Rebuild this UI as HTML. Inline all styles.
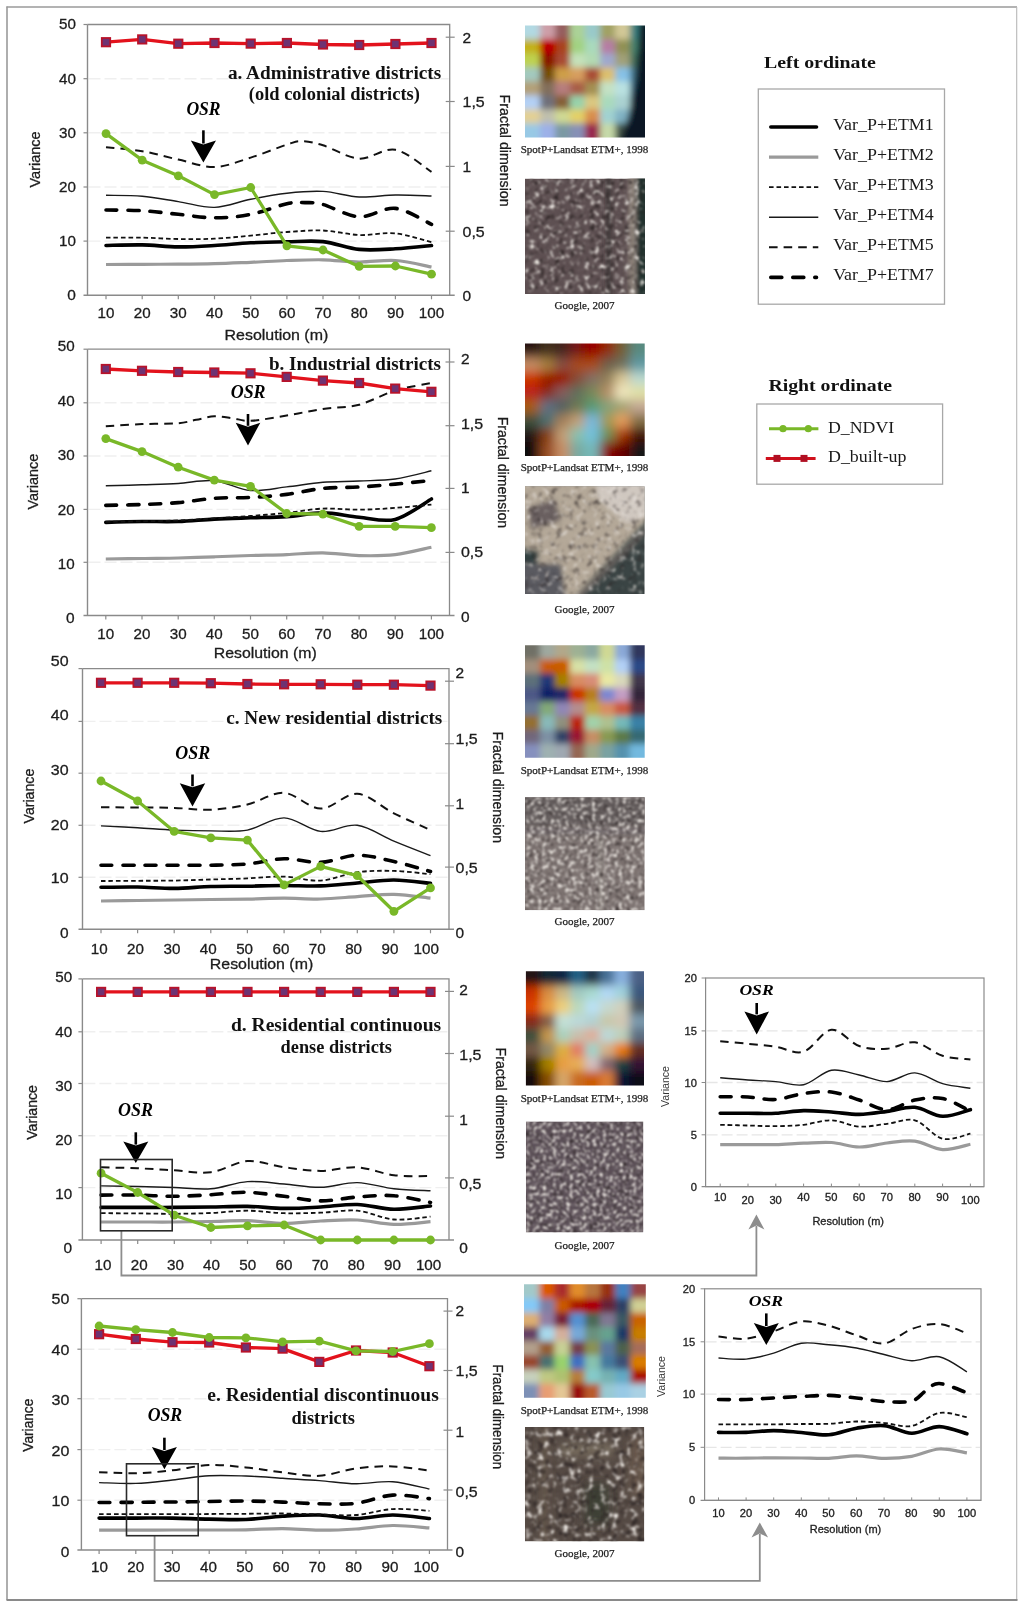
<!DOCTYPE html>
<html><head><meta charset="utf-8"><title>Figure</title>
<style>html,body{margin:0;padding:0;background:#fff;} svg{display:block;filter:blur(0.4px);}</style>
</head><body>
<svg width="1024" height="1608" viewBox="0 0 1024 1608">
<rect width="1024" height="1608" fill="#fff"/>
<line x1="7" y1="6.5" x2="7" y2="1600" stroke="#9a9a9a" stroke-width="1.6"/>
<line x1="6.5" y1="7" x2="1017" y2="7" stroke="#9a9a9a" stroke-width="1.6"/>
<line x1="1016.7" y1="7" x2="1016.7" y2="1600" stroke="#b8b8b8" stroke-width="1.1"/>
<line x1="6.5" y1="1599.9" x2="1017.5" y2="1599.9" stroke="#8a8a8a" stroke-width="2"/>
<clipPath id="cs0"><rect x="525" y="25.4" width="120.0" height="112.0"/></clipPath>
<filter id="fs0" filterUnits="userSpaceOnUse" x="495" y="-4.600000000000001" width="180.0" height="172.0"><feGaussianBlur stdDeviation="3.2"/><feColorMatrix type="saturate" values="1.2"/></filter>
<g clip-path="url(#cs0)"><g filter="url(#fs0)">
<rect x="505.0" y="5.4" width="35.6" height="34.6" fill="#b8d8e0"/>
<rect x="540.0" y="5.4" width="15.6" height="34.6" fill="#c8a0a8"/>
<rect x="555.0" y="5.4" width="15.6" height="34.6" fill="#906060"/>
<rect x="570.0" y="5.4" width="15.6" height="34.6" fill="#b0d0a0"/>
<rect x="585.0" y="5.4" width="15.6" height="34.6" fill="#a0c8c8"/>
<rect x="600.0" y="5.4" width="15.6" height="34.6" fill="#a0a070"/>
<rect x="615.0" y="5.4" width="15.6" height="34.6" fill="#d0c8a0"/>
<rect x="630.0" y="5.4" width="35.6" height="34.6" fill="#4a8080"/>
<rect x="505.0" y="39.4" width="35.6" height="14.6" fill="#c0b050"/>
<rect x="540.0" y="39.4" width="15.6" height="14.6" fill="#b01818"/>
<rect x="555.0" y="39.4" width="15.6" height="14.6" fill="#a04830"/>
<rect x="570.0" y="39.4" width="15.6" height="14.6" fill="#a8d090"/>
<rect x="585.0" y="39.4" width="15.6" height="14.6" fill="#b0d8c0"/>
<rect x="600.0" y="39.4" width="15.6" height="14.6" fill="#b080a0"/>
<rect x="615.0" y="39.4" width="15.6" height="14.6" fill="#909060"/>
<rect x="630.0" y="39.4" width="35.6" height="14.6" fill="#508070"/>
<rect x="505.0" y="53.4" width="35.6" height="14.6" fill="#c0d070"/>
<rect x="540.0" y="53.4" width="15.6" height="14.6" fill="#802010"/>
<rect x="555.0" y="53.4" width="15.6" height="14.6" fill="#a05040"/>
<rect x="570.0" y="53.4" width="15.6" height="14.6" fill="#c8e0c0"/>
<rect x="585.0" y="53.4" width="15.6" height="14.6" fill="#b8d8b8"/>
<rect x="600.0" y="53.4" width="15.6" height="14.6" fill="#a0a8c8"/>
<rect x="615.0" y="53.4" width="15.6" height="14.6" fill="#a0a080"/>
<rect x="630.0" y="53.4" width="35.6" height="14.6" fill="#4a7060"/>
<rect x="505.0" y="67.4" width="35.6" height="14.6" fill="#a8c8c0"/>
<rect x="540.0" y="67.4" width="15.6" height="14.6" fill="#705020"/>
<rect x="555.0" y="67.4" width="15.6" height="14.6" fill="#c8a060"/>
<rect x="570.0" y="67.4" width="15.6" height="14.6" fill="#d0a070"/>
<rect x="585.0" y="67.4" width="15.6" height="14.6" fill="#a05040"/>
<rect x="600.0" y="67.4" width="15.6" height="14.6" fill="#d8c080"/>
<rect x="615.0" y="67.4" width="15.6" height="14.6" fill="#90c0e0"/>
<rect x="630.0" y="67.4" width="35.6" height="14.6" fill="#4a7080"/>
<rect x="505.0" y="81.4" width="35.6" height="14.6" fill="#b0a080"/>
<rect x="540.0" y="81.4" width="15.6" height="14.6" fill="#807060"/>
<rect x="555.0" y="81.4" width="15.6" height="14.6" fill="#b08080"/>
<rect x="570.0" y="81.4" width="15.6" height="14.6" fill="#a06050"/>
<rect x="585.0" y="81.4" width="15.6" height="14.6" fill="#a09060"/>
<rect x="600.0" y="81.4" width="15.6" height="14.6" fill="#c8e0c8"/>
<rect x="615.0" y="81.4" width="15.6" height="14.6" fill="#c0e0e0"/>
<rect x="630.0" y="81.4" width="35.6" height="14.6" fill="#3a6880"/>
<rect x="505.0" y="95.4" width="35.6" height="14.6" fill="#b8d0f0"/>
<rect x="540.0" y="95.4" width="15.6" height="14.6" fill="#707078"/>
<rect x="555.0" y="95.4" width="15.6" height="14.6" fill="#806040"/>
<rect x="570.0" y="95.4" width="15.6" height="14.6" fill="#a0d0b0"/>
<rect x="585.0" y="95.4" width="15.6" height="14.6" fill="#d8c890"/>
<rect x="600.0" y="95.4" width="15.6" height="14.6" fill="#b0d8c0"/>
<rect x="615.0" y="95.4" width="15.6" height="14.6" fill="#b0d0d0"/>
<rect x="630.0" y="95.4" width="35.6" height="14.6" fill="#305870"/>
<rect x="505.0" y="109.4" width="35.6" height="14.6" fill="#e0d0a0"/>
<rect x="540.0" y="109.4" width="15.6" height="14.6" fill="#c0c0b0"/>
<rect x="555.0" y="109.4" width="15.6" height="14.6" fill="#d0d8a0"/>
<rect x="570.0" y="109.4" width="15.6" height="14.6" fill="#e0d080"/>
<rect x="585.0" y="109.4" width="15.6" height="14.6" fill="#d09060"/>
<rect x="600.0" y="109.4" width="15.6" height="14.6" fill="#a8d0d0"/>
<rect x="615.0" y="109.4" width="15.6" height="14.6" fill="#88b0c0"/>
<rect x="630.0" y="109.4" width="35.6" height="14.6" fill="#284858"/>
<rect x="505.0" y="123.4" width="35.6" height="34.6" fill="#a0c8e0"/>
<rect x="540.0" y="123.4" width="15.6" height="34.6" fill="#a0b0e0"/>
<rect x="555.0" y="123.4" width="15.6" height="34.6" fill="#8098a0"/>
<rect x="570.0" y="123.4" width="15.6" height="34.6" fill="#8890b0"/>
<rect x="585.0" y="123.4" width="15.6" height="34.6" fill="#903050"/>
<rect x="600.0" y="123.4" width="15.6" height="34.6" fill="#c8d8b0"/>
<rect x="615.0" y="123.4" width="15.6" height="34.6" fill="#485850"/>
<rect x="630.0" y="123.4" width="35.6" height="34.6" fill="#202828"/>
<path d="M639,20.4 L655,20.4 L655,147.4 L617,147.4 L628,117.2 L635,81.4 L638,47.8 Z" fill="#0c1620"/>
</g></g>
<clipPath id="cg0"><rect x="525" y="178.6" width="120.0" height="115.4"/></clipPath>
<filter id="bg0" filterUnits="userSpaceOnUse" x="505" y="158.6" width="160.0" height="155.4"><feGaussianBlur stdDeviation="2"/></filter>
<filter id="ng0" filterUnits="userSpaceOnUse" x="525" y="178.6" width="120.0" height="115.4" color-interpolation-filters="sRGB"><feTurbulence type="fractalNoise" baseFrequency="0.2" numOctaves="3" seed="7" result="n"/><feColorMatrix in="n" type="matrix" values="0 0 0 0 0.92  0 0 0 0 0.9  0 0 0 0 0.88  4.4 0 0 0 -2.45" result="w"/><feColorMatrix in="n" type="matrix" values="0 0 0 0 0.16  0 0 0 0 0.13  0 0 0 0 0.13  0 -3.30 0 0 1.52" result="k"/><feMerge><feMergeNode in="k"/><feMergeNode in="w"/></feMerge><feGaussianBlur stdDeviation="0.8"/></filter>
<g clip-path="url(#cg0)"><rect x="525" y="178.6" width="120.0" height="115.4" fill="#5e5052"/>
<g filter="url(#bg0)"><rect x="628.2" y="173.6" width="8.4" height="125.4" fill="#8a8078"/><rect x="636.6" y="173.6" width="12.0" height="125.4" fill="#22302e"/><rect x="606.6" y="173.6" width="4.2" height="125.4" fill="#3a3434"/></g>
<rect x="525" y="178.6" width="120.0" height="115.4" filter="url(#ng0)"/>
</g>
<text x="584.5" y="152.6" font-family="Liberation Serif" font-size="11" text-anchor="middle" fill="#1e1e1e" stroke="#1e1e1e" stroke-width="0.25" textLength="127.7" lengthAdjust="spacingAndGlyphs">SpotP+Landsat ETM+, 1998</text>
<text x="584.5" y="308.6" font-family="Liberation Serif" font-size="11" text-anchor="middle" fill="#1e1e1e" stroke="#1e1e1e" stroke-width="0.25" textLength="60.0" lengthAdjust="spacingAndGlyphs">Google, 2007</text>
<clipPath id="cs1"><rect x="525" y="343.4" width="119.7" height="112.5"/></clipPath>
<filter id="fs1" filterUnits="userSpaceOnUse" x="495" y="313.4" width="179.7" height="172.5"><feGaussianBlur stdDeviation="5.2"/><feColorMatrix type="saturate" values="1.2"/></filter>
<g clip-path="url(#cs1)"><g filter="url(#fs1)">
<rect x="505.0" y="323.4" width="35.6" height="34.7" fill="#281818"/>
<rect x="540.0" y="323.4" width="15.6" height="34.7" fill="#403020"/>
<rect x="554.9" y="323.4" width="15.6" height="34.7" fill="#402820"/>
<rect x="569.9" y="323.4" width="15.6" height="34.7" fill="#702020"/>
<rect x="584.9" y="323.4" width="15.6" height="34.7" fill="#901810"/>
<rect x="599.8" y="323.4" width="15.6" height="34.7" fill="#8a3020"/>
<rect x="614.8" y="323.4" width="15.6" height="34.7" fill="#706040"/>
<rect x="629.7" y="323.4" width="35.6" height="34.7" fill="#608880"/>
<rect x="505.0" y="357.5" width="35.6" height="14.7" fill="#c09070"/>
<rect x="540.0" y="357.5" width="15.6" height="14.7" fill="#a08050"/>
<rect x="554.9" y="357.5" width="15.6" height="14.7" fill="#805048"/>
<rect x="569.9" y="357.5" width="15.6" height="14.7" fill="#a05030"/>
<rect x="584.9" y="357.5" width="15.6" height="14.7" fill="#a05030"/>
<rect x="599.8" y="357.5" width="15.6" height="14.7" fill="#6a6050"/>
<rect x="614.8" y="357.5" width="15.6" height="14.7" fill="#707060"/>
<rect x="629.7" y="357.5" width="35.6" height="14.7" fill="#6a98a0"/>
<rect x="505.0" y="371.5" width="35.6" height="14.7" fill="#c04020"/>
<rect x="540.0" y="371.5" width="15.6" height="14.7" fill="#902010"/>
<rect x="554.9" y="371.5" width="15.6" height="14.7" fill="#902010"/>
<rect x="569.9" y="371.5" width="15.6" height="14.7" fill="#805040"/>
<rect x="584.9" y="371.5" width="15.6" height="14.7" fill="#807068"/>
<rect x="599.8" y="371.5" width="15.6" height="14.7" fill="#908060"/>
<rect x="614.8" y="371.5" width="15.6" height="14.7" fill="#d8c8a0"/>
<rect x="629.7" y="371.5" width="35.6" height="14.7" fill="#c0d8d0"/>
<rect x="505.0" y="385.6" width="35.6" height="14.7" fill="#b03030"/>
<rect x="540.0" y="385.6" width="15.6" height="14.7" fill="#803028"/>
<rect x="554.9" y="385.6" width="15.6" height="14.7" fill="#806060"/>
<rect x="569.9" y="385.6" width="15.6" height="14.7" fill="#607060"/>
<rect x="584.9" y="385.6" width="15.6" height="14.7" fill="#7a8860"/>
<rect x="599.8" y="385.6" width="15.6" height="14.7" fill="#b09070"/>
<rect x="614.8" y="385.6" width="15.6" height="14.7" fill="#f0e8c8"/>
<rect x="629.7" y="385.6" width="35.6" height="14.7" fill="#e0e0b0"/>
<rect x="505.0" y="399.6" width="35.6" height="14.7" fill="#a06030"/>
<rect x="540.0" y="399.6" width="15.6" height="14.7" fill="#607080"/>
<rect x="554.9" y="399.6" width="15.6" height="14.7" fill="#506060"/>
<rect x="569.9" y="399.6" width="15.6" height="14.7" fill="#707858"/>
<rect x="584.9" y="399.6" width="15.6" height="14.7" fill="#609878"/>
<rect x="599.8" y="399.6" width="15.6" height="14.7" fill="#88a080"/>
<rect x="614.8" y="399.6" width="15.6" height="14.7" fill="#a0a078"/>
<rect x="629.7" y="399.6" width="35.6" height="14.7" fill="#c0a898"/>
<rect x="505.0" y="413.7" width="35.6" height="14.7" fill="#405040"/>
<rect x="540.0" y="413.7" width="15.6" height="14.7" fill="#507070"/>
<rect x="554.9" y="413.7" width="15.6" height="14.7" fill="#a08060"/>
<rect x="569.9" y="413.7" width="15.6" height="14.7" fill="#c0a080"/>
<rect x="584.9" y="413.7" width="15.6" height="14.7" fill="#80b8d8"/>
<rect x="599.8" y="413.7" width="15.6" height="14.7" fill="#a09860"/>
<rect x="614.8" y="413.7" width="15.6" height="14.7" fill="#e0a070"/>
<rect x="629.7" y="413.7" width="35.6" height="14.7" fill="#807050"/>
<rect x="505.0" y="427.8" width="35.6" height="14.7" fill="#201818"/>
<rect x="540.0" y="427.8" width="15.6" height="14.7" fill="#804020"/>
<rect x="554.9" y="427.8" width="15.6" height="14.7" fill="#c0a080"/>
<rect x="569.9" y="427.8" width="15.6" height="14.7" fill="#90c0b0"/>
<rect x="584.9" y="427.8" width="15.6" height="14.7" fill="#80c0d8"/>
<rect x="599.8" y="427.8" width="15.6" height="14.7" fill="#709060"/>
<rect x="614.8" y="427.8" width="15.6" height="14.7" fill="#a04020"/>
<rect x="629.7" y="427.8" width="35.6" height="14.7" fill="#401810"/>
<rect x="505.0" y="441.8" width="35.6" height="34.7" fill="#101010"/>
<rect x="540.0" y="441.8" width="15.6" height="34.7" fill="#905030"/>
<rect x="554.9" y="441.8" width="15.6" height="34.7" fill="#c09070"/>
<rect x="569.9" y="441.8" width="15.6" height="34.7" fill="#80a8a0"/>
<rect x="584.9" y="441.8" width="15.6" height="34.7" fill="#80b8b8"/>
<rect x="599.8" y="441.8" width="15.6" height="34.7" fill="#801818"/>
<rect x="614.8" y="441.8" width="15.6" height="34.7" fill="#601010"/>
<rect x="629.7" y="441.8" width="35.6" height="34.7" fill="#181818"/>
</g></g>
<clipPath id="cg1"><rect x="525" y="486.3" width="119.7" height="107.7"/></clipPath>
<filter id="bg1" filterUnits="userSpaceOnUse" x="505" y="466.3" width="159.7" height="147.7"><feGaussianBlur stdDeviation="2.5"/></filter>
<filter id="ng1" filterUnits="userSpaceOnUse" x="525" y="486.3" width="119.7" height="107.7" color-interpolation-filters="sRGB"><feTurbulence type="fractalNoise" baseFrequency="0.16" numOctaves="3" seed="10" result="n"/><feColorMatrix in="n" type="matrix" values="0 0 0 0 0.92  0 0 0 0 0.9  0 0 0 0 0.88  2.6 0 0 0 -1.45" result="w"/><feColorMatrix in="n" type="matrix" values="0 0 0 0 0.16  0 0 0 0 0.13  0 0 0 0 0.13  0 -2.00 0 0 0.92" result="k"/><feMerge><feMergeNode in="k"/><feMergeNode in="w"/></feMerge><feGaussianBlur stdDeviation="0.8"/></filter>
<g clip-path="url(#cg1)"><rect x="525" y="486.3" width="119.7" height="107.7" fill="#3a4444"/>
<g filter="url(#bg1)"><path d="M513.0,475.5 L656.7,475.5 L656.7,510.0 L566.9,604.8 L513.0,604.8 Z" fill="#b4a898"/><path d="M596.8,475.5 L656.7,475.5 L656.7,513.2 L626.7,524.0 L596.8,497.1 Z" fill="#d0c8c0"/><path d="M513.0,545.5 L539.4,550.9 L537.0,567.1 L513.0,567.1 Z" fill="#304040"/><path d="M513.0,563.8 L560.9,563.8 L566.9,604.8 L513.0,604.8 Z" fill="#5a5a60"/><path d="M527.4,507.8 L554.9,499.2 L560.9,520.8 L531.0,529.4 Z" fill="#6a6060"/><path d="M566.9,604.8 L656.7,516.5 L656.7,522.9 L575.3,604.8 Z" fill="#6a6460"/></g>
<rect x="525" y="486.3" width="119.7" height="107.7" filter="url(#ng1)"/>
</g>
<text x="584.5" y="471.3" font-family="Liberation Serif" font-size="11" text-anchor="middle" fill="#1e1e1e" stroke="#1e1e1e" stroke-width="0.25" textLength="127.7" lengthAdjust="spacingAndGlyphs">SpotP+Landsat ETM+, 1998</text>
<text x="584.5" y="613.1" font-family="Liberation Serif" font-size="11" text-anchor="middle" fill="#1e1e1e" stroke="#1e1e1e" stroke-width="0.25" textLength="60.0" lengthAdjust="spacingAndGlyphs">Google, 2007</text>
<clipPath id="cs2"><rect x="525" y="645.3" width="119.7" height="112.5"/></clipPath>
<filter id="fs2" filterUnits="userSpaceOnUse" x="495" y="615.3" width="179.7" height="172.5"><feGaussianBlur stdDeviation="3.2"/><feColorMatrix type="saturate" values="1.2"/></filter>
<g clip-path="url(#cs2)"><g filter="url(#fs2)">
<rect x="505.0" y="625.3" width="35.6" height="34.7" fill="#707068"/>
<rect x="540.0" y="625.3" width="15.6" height="34.7" fill="#a0a8a0"/>
<rect x="554.9" y="625.3" width="15.6" height="34.7" fill="#b0a890"/>
<rect x="569.9" y="625.3" width="15.6" height="34.7" fill="#a0b098"/>
<rect x="584.9" y="625.3" width="15.6" height="34.7" fill="#90a8a0"/>
<rect x="599.8" y="625.3" width="15.6" height="34.7" fill="#d0d8a0"/>
<rect x="614.8" y="625.3" width="15.6" height="34.7" fill="#90a8d0"/>
<rect x="629.7" y="625.3" width="35.6" height="34.7" fill="#303858"/>
<rect x="505.0" y="659.4" width="35.6" height="14.7" fill="#a09080"/>
<rect x="540.0" y="659.4" width="15.6" height="14.7" fill="#c06030"/>
<rect x="554.9" y="659.4" width="15.6" height="14.7" fill="#c06020"/>
<rect x="569.9" y="659.4" width="15.6" height="14.7" fill="#d8e0b0"/>
<rect x="584.9" y="659.4" width="15.6" height="14.7" fill="#c8e0c8"/>
<rect x="599.8" y="659.4" width="15.6" height="14.7" fill="#d0e0b0"/>
<rect x="614.8" y="659.4" width="15.6" height="14.7" fill="#b8d0f0"/>
<rect x="629.7" y="659.4" width="35.6" height="14.7" fill="#304880"/>
<rect x="505.0" y="673.4" width="35.6" height="14.7" fill="#607078"/>
<rect x="540.0" y="673.4" width="15.6" height="14.7" fill="#283870"/>
<rect x="554.9" y="673.4" width="15.6" height="14.7" fill="#a08030"/>
<rect x="569.9" y="673.4" width="15.6" height="14.7" fill="#d09070"/>
<rect x="584.9" y="673.4" width="15.6" height="14.7" fill="#d09080"/>
<rect x="599.8" y="673.4" width="15.6" height="14.7" fill="#e8e8b0"/>
<rect x="614.8" y="673.4" width="15.6" height="14.7" fill="#d8d8c0"/>
<rect x="629.7" y="673.4" width="35.6" height="14.7" fill="#403848"/>
<rect x="505.0" y="687.5" width="35.6" height="14.7" fill="#505880"/>
<rect x="540.0" y="687.5" width="15.6" height="14.7" fill="#182060"/>
<rect x="554.9" y="687.5" width="15.6" height="14.7" fill="#202860"/>
<rect x="569.9" y="687.5" width="15.6" height="14.7" fill="#c04020"/>
<rect x="584.9" y="687.5" width="15.6" height="14.7" fill="#b08040"/>
<rect x="599.8" y="687.5" width="15.6" height="14.7" fill="#8088c8"/>
<rect x="614.8" y="687.5" width="15.6" height="14.7" fill="#c0a0c0"/>
<rect x="629.7" y="687.5" width="35.6" height="14.7" fill="#302838"/>
<rect x="505.0" y="701.5" width="35.6" height="14.7" fill="#6a7890"/>
<rect x="540.0" y="701.5" width="15.6" height="14.7" fill="#88a880"/>
<rect x="554.9" y="701.5" width="15.6" height="14.7" fill="#9088b0"/>
<rect x="569.9" y="701.5" width="15.6" height="14.7" fill="#b09090"/>
<rect x="584.9" y="701.5" width="15.6" height="14.7" fill="#c0a860"/>
<rect x="599.8" y="701.5" width="15.6" height="14.7" fill="#d09070"/>
<rect x="614.8" y="701.5" width="15.6" height="14.7" fill="#c06050"/>
<rect x="629.7" y="701.5" width="35.6" height="14.7" fill="#503040"/>
<rect x="505.0" y="715.6" width="35.6" height="14.7" fill="#907040"/>
<rect x="540.0" y="715.6" width="15.6" height="14.7" fill="#90b8b8"/>
<rect x="554.9" y="715.6" width="15.6" height="14.7" fill="#909080"/>
<rect x="569.9" y="715.6" width="15.6" height="14.7" fill="#b03028"/>
<rect x="584.9" y="715.6" width="15.6" height="14.7" fill="#a8d0b0"/>
<rect x="599.8" y="715.6" width="15.6" height="14.7" fill="#b0c098"/>
<rect x="614.8" y="715.6" width="15.6" height="14.7" fill="#80b8b8"/>
<rect x="629.7" y="715.6" width="35.6" height="14.7" fill="#4880a0"/>
<rect x="505.0" y="729.7" width="35.6" height="14.7" fill="#706878"/>
<rect x="540.0" y="729.7" width="15.6" height="14.7" fill="#8090a0"/>
<rect x="554.9" y="729.7" width="15.6" height="14.7" fill="#304060"/>
<rect x="569.9" y="729.7" width="15.6" height="14.7" fill="#902838"/>
<rect x="584.9" y="729.7" width="15.6" height="14.7" fill="#c09070"/>
<rect x="599.8" y="729.7" width="15.6" height="14.7" fill="#8a9860"/>
<rect x="614.8" y="729.7" width="15.6" height="14.7" fill="#607850"/>
<rect x="629.7" y="729.7" width="35.6" height="14.7" fill="#406870"/>
<rect x="505.0" y="743.7" width="35.6" height="34.7" fill="#8890b8"/>
<rect x="540.0" y="743.7" width="15.6" height="34.7" fill="#a0b0b0"/>
<rect x="554.9" y="743.7" width="15.6" height="34.7" fill="#a0a8b0"/>
<rect x="569.9" y="743.7" width="15.6" height="34.7" fill="#906858"/>
<rect x="584.9" y="743.7" width="15.6" height="34.7" fill="#a0a890"/>
<rect x="599.8" y="743.7" width="15.6" height="34.7" fill="#80a0a0"/>
<rect x="614.8" y="743.7" width="15.6" height="34.7" fill="#6090a8"/>
<rect x="629.7" y="743.7" width="35.6" height="34.7" fill="#80b8d8"/>
</g></g>
<clipPath id="cg2"><rect x="525" y="797.3" width="119.7" height="112.9"/></clipPath>
<filter id="bg2" filterUnits="userSpaceOnUse" x="505" y="777.3" width="159.7" height="152.9"><feGaussianBlur stdDeviation="2"/></filter>
<filter id="ng2" filterUnits="userSpaceOnUse" x="525" y="797.3" width="119.7" height="112.9" color-interpolation-filters="sRGB"><feTurbulence type="fractalNoise" baseFrequency="0.26" numOctaves="3" seed="13" result="n"/><feColorMatrix in="n" type="matrix" values="0 0 0 0 0.92  0 0 0 0 0.9  0 0 0 0 0.88  4.6 0 0 0 -2.35" result="w"/><feColorMatrix in="n" type="matrix" values="0 0 0 0 0.16  0 0 0 0 0.13  0 0 0 0 0.13  0 -3.00 0 0 1.38" result="k"/><feMerge><feMergeNode in="k"/><feMergeNode in="w"/></feMerge><feGaussianBlur stdDeviation="0.8"/></filter>
<g clip-path="url(#cg2)"><rect x="525" y="797.3" width="119.7" height="112.9" fill="#7c7270"/>
<g filter="url(#bg2)"><rect x="596.8" y="828.9" width="7.2" height="112.9" fill="#8c8480"/><rect x="520" y="792.3" width="129.7" height="33.9" fill="#645c5c"/><rect x="520" y="828.9" width="129.7" height="5.6" fill="#70686a"/></g>
<rect x="525" y="797.3" width="119.7" height="112.9" filter="url(#ng2)"/>
</g>
<text x="584.5" y="774.4" font-family="Liberation Serif" font-size="11" text-anchor="middle" fill="#1e1e1e" stroke="#1e1e1e" stroke-width="0.25" textLength="127.7" lengthAdjust="spacingAndGlyphs">SpotP+Landsat ETM+, 1998</text>
<text x="584.5" y="925.0" font-family="Liberation Serif" font-size="11" text-anchor="middle" fill="#1e1e1e" stroke="#1e1e1e" stroke-width="0.25" textLength="60.0" lengthAdjust="spacingAndGlyphs">Google, 2007</text>
<clipPath id="cs3"><rect x="525.9" y="971.2" width="118.1" height="114.2"/></clipPath>
<filter id="fs3" filterUnits="userSpaceOnUse" x="495.9" y="941.2" width="178.1" height="174.2"><feGaussianBlur stdDeviation="4.4"/><feColorMatrix type="saturate" values="1.2"/></filter>
<g clip-path="url(#cs3)"><g filter="url(#fs3)">
<rect x="505.9" y="951.2" width="35.4" height="34.9" fill="#201818"/>
<rect x="540.7" y="951.2" width="15.4" height="34.9" fill="#182830"/>
<rect x="555.4" y="951.2" width="15.4" height="34.9" fill="#182840"/>
<rect x="570.2" y="951.2" width="15.4" height="34.9" fill="#306080"/>
<rect x="585.0" y="951.2" width="15.4" height="34.9" fill="#203040"/>
<rect x="599.7" y="951.2" width="15.4" height="34.9" fill="#507090"/>
<rect x="614.5" y="951.2" width="15.4" height="34.9" fill="#90b0d8"/>
<rect x="629.2" y="951.2" width="35.4" height="34.9" fill="#506080"/>
<rect x="505.9" y="985.5" width="35.4" height="14.9" fill="#c04020"/>
<rect x="540.7" y="985.5" width="15.4" height="14.9" fill="#d0905a"/>
<rect x="555.4" y="985.5" width="15.4" height="14.9" fill="#c8b890"/>
<rect x="570.2" y="985.5" width="15.4" height="14.9" fill="#a8c8c0"/>
<rect x="585.0" y="985.5" width="15.4" height="14.9" fill="#b0d8d0"/>
<rect x="599.7" y="985.5" width="15.4" height="14.9" fill="#b8d8f0"/>
<rect x="614.5" y="985.5" width="15.4" height="14.9" fill="#a8d0d8"/>
<rect x="629.2" y="985.5" width="35.4" height="14.9" fill="#405878"/>
<rect x="505.9" y="999.8" width="35.4" height="14.9" fill="#d05030"/>
<rect x="540.7" y="999.8" width="15.4" height="14.9" fill="#e0a060"/>
<rect x="555.4" y="999.8" width="15.4" height="14.9" fill="#e8d090"/>
<rect x="570.2" y="999.8" width="15.4" height="14.9" fill="#c0d8c0"/>
<rect x="585.0" y="999.8" width="15.4" height="14.9" fill="#c0e0f0"/>
<rect x="599.7" y="999.8" width="15.4" height="14.9" fill="#c8d8d0"/>
<rect x="614.5" y="999.8" width="15.4" height="14.9" fill="#d0d0c0"/>
<rect x="629.2" y="999.8" width="35.4" height="14.9" fill="#505860"/>
<rect x="505.9" y="1014.0" width="35.4" height="14.9" fill="#803028"/>
<rect x="540.7" y="1014.0" width="15.4" height="14.9" fill="#806050"/>
<rect x="555.4" y="1014.0" width="15.4" height="14.9" fill="#c8e0d8"/>
<rect x="570.2" y="1014.0" width="15.4" height="14.9" fill="#c0d8d8"/>
<rect x="585.0" y="1014.0" width="15.4" height="14.9" fill="#b8d0d0"/>
<rect x="599.7" y="1014.0" width="15.4" height="14.9" fill="#c8c8b0"/>
<rect x="614.5" y="1014.0" width="15.4" height="14.9" fill="#d0c8b8"/>
<rect x="629.2" y="1014.0" width="35.4" height="14.9" fill="#8098a8"/>
<rect x="505.9" y="1028.3" width="35.4" height="14.9" fill="#405040"/>
<rect x="540.7" y="1028.3" width="15.4" height="14.9" fill="#c09860"/>
<rect x="555.4" y="1028.3" width="15.4" height="14.9" fill="#b0d0c0"/>
<rect x="570.2" y="1028.3" width="15.4" height="14.9" fill="#c8c0b0"/>
<rect x="585.0" y="1028.3" width="15.4" height="14.9" fill="#d8b0a0"/>
<rect x="599.7" y="1028.3" width="15.4" height="14.9" fill="#c0d8d8"/>
<rect x="614.5" y="1028.3" width="15.4" height="14.9" fill="#c0d0c0"/>
<rect x="629.2" y="1028.3" width="35.4" height="14.9" fill="#607080"/>
<rect x="505.9" y="1042.6" width="35.4" height="14.9" fill="#705848"/>
<rect x="540.7" y="1042.6" width="15.4" height="14.9" fill="#908870"/>
<rect x="555.4" y="1042.6" width="15.4" height="14.9" fill="#d8b060"/>
<rect x="570.2" y="1042.6" width="15.4" height="14.9" fill="#d88070"/>
<rect x="585.0" y="1042.6" width="15.4" height="14.9" fill="#a8d0c8"/>
<rect x="599.7" y="1042.6" width="15.4" height="14.9" fill="#d0b090"/>
<rect x="614.5" y="1042.6" width="15.4" height="14.9" fill="#e08040"/>
<rect x="629.2" y="1042.6" width="35.4" height="14.9" fill="#603028"/>
<rect x="505.9" y="1056.9" width="35.4" height="14.9" fill="#302818"/>
<rect x="540.7" y="1056.9" width="15.4" height="14.9" fill="#a08020"/>
<rect x="555.4" y="1056.9" width="15.4" height="14.9" fill="#e0a060"/>
<rect x="570.2" y="1056.9" width="15.4" height="14.9" fill="#e0b070"/>
<rect x="585.0" y="1056.9" width="15.4" height="14.9" fill="#d0c0c0"/>
<rect x="599.7" y="1056.9" width="15.4" height="14.9" fill="#806870"/>
<rect x="614.5" y="1056.9" width="15.4" height="14.9" fill="#204040"/>
<rect x="629.2" y="1056.9" width="35.4" height="14.9" fill="#301830"/>
<rect x="505.9" y="1071.1" width="35.4" height="34.9" fill="#181010"/>
<rect x="540.7" y="1071.1" width="15.4" height="34.9" fill="#805020"/>
<rect x="555.4" y="1071.1" width="15.4" height="34.9" fill="#d0a878"/>
<rect x="570.2" y="1071.1" width="15.4" height="34.9" fill="#c07040"/>
<rect x="585.0" y="1071.1" width="15.4" height="34.9" fill="#c06030"/>
<rect x="599.7" y="1071.1" width="15.4" height="34.9" fill="#d08050"/>
<rect x="614.5" y="1071.1" width="15.4" height="34.9" fill="#101830"/>
<rect x="629.2" y="1071.1" width="35.4" height="34.9" fill="#101018"/>
</g></g>
<clipPath id="cg3"><rect x="525.9" y="1121.4" width="117.5" height="111.0"/></clipPath>
<filter id="bg3" filterUnits="userSpaceOnUse" x="505.9" y="1101.4" width="157.5" height="151.0"><feGaussianBlur stdDeviation="2"/></filter>
<filter id="ng3" filterUnits="userSpaceOnUse" x="525.9" y="1121.4" width="117.5" height="111.0" color-interpolation-filters="sRGB"><feTurbulence type="fractalNoise" baseFrequency="0.3" numOctaves="3" seed="16" result="n"/><feColorMatrix in="n" type="matrix" values="0 0 0 0 0.92  0 0 0 0 0.9  0 0 0 0 0.88  5.4 0 0 0 -2.8" result="w"/><feColorMatrix in="n" type="matrix" values="0 0 0 0 0.16  0 0 0 0 0.13  0 0 0 0 0.13  0 -4.20 0 0 1.93" result="k"/><feMerge><feMergeNode in="k"/><feMergeNode in="w"/></feMerge><feGaussianBlur stdDeviation="0.8"/></filter>
<g clip-path="url(#cg3)"><rect x="525.9" y="1121.4" width="117.5" height="111.0" fill="#5c5058"/>
<rect x="525.9" y="1121.4" width="117.5" height="111.0" filter="url(#ng3)"/>
</g>
<text x="584.5" y="1101.6" font-family="Liberation Serif" font-size="11" text-anchor="middle" fill="#1e1e1e" stroke="#1e1e1e" stroke-width="0.25" textLength="127.7" lengthAdjust="spacingAndGlyphs">SpotP+Landsat ETM+, 1998</text>
<text x="584.5" y="1249.0" font-family="Liberation Serif" font-size="11" text-anchor="middle" fill="#1e1e1e" stroke="#1e1e1e" stroke-width="0.25" textLength="60.0" lengthAdjust="spacingAndGlyphs">Google, 2007</text>
<clipPath id="cs4"><rect x="524" y="1284.3" width="121.8" height="113.5"/></clipPath>
<filter id="fs4" filterUnits="userSpaceOnUse" x="494" y="1254.3" width="181.8" height="173.5"><feGaussianBlur stdDeviation="3.0"/><feColorMatrix type="saturate" values="1.2"/></filter>
<g clip-path="url(#cs4)"><g filter="url(#fs4)">
<rect x="504.0" y="1264.3" width="35.8" height="34.8" fill="#a8c8c8"/>
<rect x="539.2" y="1264.3" width="15.8" height="34.8" fill="#d06030"/>
<rect x="554.5" y="1264.3" width="15.8" height="34.8" fill="#a03838"/>
<rect x="569.7" y="1264.3" width="15.8" height="34.8" fill="#d89050"/>
<rect x="584.9" y="1264.3" width="15.8" height="34.8" fill="#b07850"/>
<rect x="600.1" y="1264.3" width="15.8" height="34.8" fill="#903828"/>
<rect x="615.3" y="1264.3" width="15.8" height="34.8" fill="#5080b8"/>
<rect x="630.6" y="1264.3" width="35.8" height="34.8" fill="#904848"/>
<rect x="504.0" y="1298.5" width="35.8" height="14.8" fill="#90c8f0"/>
<rect x="539.2" y="1298.5" width="15.8" height="14.8" fill="#8080a0"/>
<rect x="554.5" y="1298.5" width="15.8" height="14.8" fill="#c06030"/>
<rect x="569.7" y="1298.5" width="15.8" height="14.8" fill="#a02818"/>
<rect x="584.9" y="1298.5" width="15.8" height="14.8" fill="#a01820"/>
<rect x="600.1" y="1298.5" width="15.8" height="14.8" fill="#602838"/>
<rect x="615.3" y="1298.5" width="15.8" height="14.8" fill="#304060"/>
<rect x="630.6" y="1298.5" width="35.8" height="14.8" fill="#d0d0a0"/>
<rect x="504.0" y="1312.7" width="35.8" height="14.8" fill="#d8b080"/>
<rect x="539.2" y="1312.7" width="15.8" height="14.8" fill="#9080a0"/>
<rect x="554.5" y="1312.7" width="15.8" height="14.8" fill="#702838"/>
<rect x="569.7" y="1312.7" width="15.8" height="14.8" fill="#6090c8"/>
<rect x="584.9" y="1312.7" width="15.8" height="14.8" fill="#506858"/>
<rect x="600.1" y="1312.7" width="15.8" height="14.8" fill="#807890"/>
<rect x="615.3" y="1312.7" width="15.8" height="14.8" fill="#405860"/>
<rect x="630.6" y="1312.7" width="35.8" height="14.8" fill="#c06830"/>
<rect x="504.0" y="1326.9" width="35.8" height="14.8" fill="#604060"/>
<rect x="539.2" y="1326.9" width="15.8" height="14.8" fill="#b0d8e8"/>
<rect x="554.5" y="1326.9" width="15.8" height="14.8" fill="#d0b0a0"/>
<rect x="569.7" y="1326.9" width="15.8" height="14.8" fill="#80a8d0"/>
<rect x="584.9" y="1326.9" width="15.8" height="14.8" fill="#709080"/>
<rect x="600.1" y="1326.9" width="15.8" height="14.8" fill="#70a090"/>
<rect x="615.3" y="1326.9" width="15.8" height="14.8" fill="#203860"/>
<rect x="630.6" y="1326.9" width="35.8" height="14.8" fill="#c08030"/>
<rect x="504.0" y="1341.0" width="35.8" height="14.8" fill="#b0a090"/>
<rect x="539.2" y="1341.0" width="15.8" height="14.8" fill="#906040"/>
<rect x="554.5" y="1341.0" width="15.8" height="14.8" fill="#c8d0a0"/>
<rect x="569.7" y="1341.0" width="15.8" height="14.8" fill="#704048"/>
<rect x="584.9" y="1341.0" width="15.8" height="14.8" fill="#8a9060"/>
<rect x="600.1" y="1341.0" width="15.8" height="14.8" fill="#607898"/>
<rect x="615.3" y="1341.0" width="15.8" height="14.8" fill="#506050"/>
<rect x="630.6" y="1341.0" width="35.8" height="14.8" fill="#a07060"/>
<rect x="504.0" y="1355.2" width="35.8" height="14.8" fill="#904838"/>
<rect x="539.2" y="1355.2" width="15.8" height="14.8" fill="#507070"/>
<rect x="554.5" y="1355.2" width="15.8" height="14.8" fill="#a0d080"/>
<rect x="569.7" y="1355.2" width="15.8" height="14.8" fill="#4870b8"/>
<rect x="584.9" y="1355.2" width="15.8" height="14.8" fill="#90c0b0"/>
<rect x="600.1" y="1355.2" width="15.8" height="14.8" fill="#507898"/>
<rect x="615.3" y="1355.2" width="15.8" height="14.8" fill="#405070"/>
<rect x="630.6" y="1355.2" width="35.8" height="14.8" fill="#d08030"/>
<rect x="504.0" y="1369.4" width="35.8" height="14.8" fill="#c8d0c0"/>
<rect x="539.2" y="1369.4" width="15.8" height="14.8" fill="#c0c890"/>
<rect x="554.5" y="1369.4" width="15.8" height="14.8" fill="#b0c080"/>
<rect x="569.7" y="1369.4" width="15.8" height="14.8" fill="#b08050"/>
<rect x="584.9" y="1369.4" width="15.8" height="14.8" fill="#90c8c8"/>
<rect x="600.1" y="1369.4" width="15.8" height="14.8" fill="#80b0b0"/>
<rect x="615.3" y="1369.4" width="15.8" height="14.8" fill="#70a8c0"/>
<rect x="630.6" y="1369.4" width="35.8" height="14.8" fill="#a02820"/>
<rect x="504.0" y="1383.6" width="35.8" height="34.8" fill="#8090b0"/>
<rect x="539.2" y="1383.6" width="15.8" height="34.8" fill="#e0a080"/>
<rect x="554.5" y="1383.6" width="15.8" height="34.8" fill="#e0c8a0"/>
<rect x="569.7" y="1383.6" width="15.8" height="34.8" fill="#902020"/>
<rect x="584.9" y="1383.6" width="15.8" height="34.8" fill="#b06040"/>
<rect x="600.1" y="1383.6" width="15.8" height="34.8" fill="#a0c8d0"/>
<rect x="615.3" y="1383.6" width="15.8" height="34.8" fill="#a0c8e0"/>
<rect x="630.6" y="1383.6" width="35.8" height="34.8" fill="#b0d0e0"/>
</g></g>
<clipPath id="cg4"><rect x="524.9" y="1427" width="119.4" height="114.4"/></clipPath>
<filter id="bg4" filterUnits="userSpaceOnUse" x="504.9" y="1407" width="159.4" height="154.4"><feGaussianBlur stdDeviation="5"/></filter>
<filter id="ng4" filterUnits="userSpaceOnUse" x="524.9" y="1427" width="119.4" height="114.4" color-interpolation-filters="sRGB"><feTurbulence type="fractalNoise" baseFrequency="0.16" numOctaves="3" seed="19" result="n"/><feColorMatrix in="n" type="matrix" values="0 0 0 0 0.92  0 0 0 0 0.9  0 0 0 0 0.88  4.2 0 0 0 -2.3" result="w"/><feColorMatrix in="n" type="matrix" values="0 0 0 0 0.16  0 0 0 0 0.13  0 0 0 0 0.13  0 -3.20 0 0 1.47" result="k"/><feMerge><feMergeNode in="k"/><feMergeNode in="w"/></feMerge><feGaussianBlur stdDeviation="0.8"/></filter>
<g clip-path="url(#cg4)"><rect x="524.9" y="1427" width="119.4" height="114.4" fill="#554a44"/>
<g filter="url(#bg4)"><rect x="584.6" y="1484.2" width="23.9" height="40.0" fill="#3e4036"/><rect x="630.0" y="1438.4" width="14.3" height="57.2" fill="#6a5a4e"/><rect x="542.8" y="1422" width="3.6" height="124.4" fill="#7a6a58"/><rect x="560.7" y="1444.2" width="53.7" height="11.4" fill="#7a7060"/></g>
<rect x="524.9" y="1427" width="119.4" height="114.4" filter="url(#ng4)"/>
</g>
<text x="584.5" y="1414.4" font-family="Liberation Serif" font-size="11" text-anchor="middle" fill="#1e1e1e" stroke="#1e1e1e" stroke-width="0.25" textLength="127.7" lengthAdjust="spacingAndGlyphs">SpotP+Landsat ETM+, 1998</text>
<text x="584.5" y="1556.6" font-family="Liberation Serif" font-size="11" text-anchor="middle" fill="#1e1e1e" stroke="#1e1e1e" stroke-width="0.25" textLength="60.0" lengthAdjust="spacingAndGlyphs">Google, 2007</text>
<line x1="88.5" y1="241.1" x2="448.7" y2="241.1" stroke="#efefef" stroke-width="1.4" stroke-dasharray="12 4"/>
<line x1="88.5" y1="187.0" x2="448.7" y2="187.0" stroke="#efefef" stroke-width="1.4" stroke-dasharray="12 4"/>
<line x1="88.5" y1="132.8" x2="448.7" y2="132.8" stroke="#efefef" stroke-width="1.4" stroke-dasharray="12 4"/>
<line x1="88.5" y1="78.7" x2="448.7" y2="78.7" stroke="#efefef" stroke-width="1.4" stroke-dasharray="12 4"/>
<path d="M87.5,24.5 L449.7,24.5 L449.7,295.3" stroke="#8a8a8a" stroke-width="1.3" fill="none"/>
<line x1="87.5" y1="24.5" x2="87.5" y2="295.3" stroke="#8a8a8a" stroke-width="1.4"/>
<line x1="83.5" y1="295.3" x2="454.7" y2="295.3" stroke="#8a8a8a" stroke-width="1.5"/>
<line x1="83.5" y1="241.1" x2="87.5" y2="241.1" stroke="#8a8a8a" stroke-width="1.2"/>
<line x1="83.5" y1="187.0" x2="87.5" y2="187.0" stroke="#8a8a8a" stroke-width="1.2"/>
<line x1="83.5" y1="132.8" x2="87.5" y2="132.8" stroke="#8a8a8a" stroke-width="1.2"/>
<line x1="83.5" y1="78.7" x2="87.5" y2="78.7" stroke="#8a8a8a" stroke-width="1.2"/>
<line x1="83.5" y1="24.5" x2="87.5" y2="24.5" stroke="#8a8a8a" stroke-width="1.2"/>
<line x1="106.0" y1="295.3" x2="106.0" y2="299.3" stroke="#8a8a8a" stroke-width="1.2"/>
<line x1="142.2" y1="295.3" x2="142.2" y2="299.3" stroke="#8a8a8a" stroke-width="1.2"/>
<line x1="178.3" y1="295.3" x2="178.3" y2="299.3" stroke="#8a8a8a" stroke-width="1.2"/>
<line x1="214.5" y1="295.3" x2="214.5" y2="299.3" stroke="#8a8a8a" stroke-width="1.2"/>
<line x1="250.7" y1="295.3" x2="250.7" y2="299.3" stroke="#8a8a8a" stroke-width="1.2"/>
<line x1="286.9" y1="295.3" x2="286.9" y2="299.3" stroke="#8a8a8a" stroke-width="1.2"/>
<line x1="323.0" y1="295.3" x2="323.0" y2="299.3" stroke="#8a8a8a" stroke-width="1.2"/>
<line x1="359.2" y1="295.3" x2="359.2" y2="299.3" stroke="#8a8a8a" stroke-width="1.2"/>
<line x1="395.4" y1="295.3" x2="395.4" y2="299.3" stroke="#8a8a8a" stroke-width="1.2"/>
<line x1="431.5" y1="295.3" x2="431.5" y2="299.3" stroke="#8a8a8a" stroke-width="1.2"/>
<line x1="445.7" y1="37.2" x2="454.7" y2="37.2" stroke="#8a8a8a" stroke-width="1.2"/>
<line x1="445.7" y1="101.5" x2="454.7" y2="101.5" stroke="#8a8a8a" stroke-width="1.2"/>
<line x1="445.7" y1="166.4" x2="454.7" y2="166.4" stroke="#8a8a8a" stroke-width="1.2"/>
<line x1="445.7" y1="231.2" x2="454.7" y2="231.2" stroke="#8a8a8a" stroke-width="1.2"/>
<text x="75.9" y="299.8" font-family="Liberation Sans" font-size="15" text-anchor="end" fill="#1c1c1c" stroke="#1c1c1c" stroke-width="0.3" textLength="8.6" lengthAdjust="spacingAndGlyphs">0</text>
<text x="75.9" y="245.8" font-family="Liberation Sans" font-size="15" text-anchor="end" fill="#1c1c1c" stroke="#1c1c1c" stroke-width="0.3" textLength="16.9" lengthAdjust="spacingAndGlyphs">10</text>
<text x="75.9" y="192.1" font-family="Liberation Sans" font-size="15" text-anchor="end" fill="#1c1c1c" stroke="#1c1c1c" stroke-width="0.3" textLength="16.9" lengthAdjust="spacingAndGlyphs">20</text>
<text x="75.9" y="137.8" font-family="Liberation Sans" font-size="15" text-anchor="end" fill="#1c1c1c" stroke="#1c1c1c" stroke-width="0.3" textLength="16.9" lengthAdjust="spacingAndGlyphs">30</text>
<text x="75.9" y="83.5" font-family="Liberation Sans" font-size="15" text-anchor="end" fill="#1c1c1c" stroke="#1c1c1c" stroke-width="0.3" textLength="16.9" lengthAdjust="spacingAndGlyphs">40</text>
<text x="75.9" y="28.9" font-family="Liberation Sans" font-size="15" text-anchor="end" fill="#1c1c1c" stroke="#1c1c1c" stroke-width="0.3" textLength="16.9" lengthAdjust="spacingAndGlyphs">50</text>
<text x="462.5" y="300.5" font-family="Liberation Sans" font-size="15" text-anchor="start" fill="#1c1c1c" stroke="#1c1c1c" stroke-width="0.3" textLength="8.6" lengthAdjust="spacingAndGlyphs">0</text>
<text x="462.5" y="236.5" font-family="Liberation Sans" font-size="15" text-anchor="start" fill="#1c1c1c" stroke="#1c1c1c" stroke-width="0.3" textLength="22.2" lengthAdjust="spacingAndGlyphs">0,5</text>
<text x="462.5" y="171.8" font-family="Liberation Sans" font-size="15" text-anchor="start" fill="#1c1c1c" stroke="#1c1c1c" stroke-width="0.3" textLength="8.6" lengthAdjust="spacingAndGlyphs">1</text>
<text x="462.5" y="106.8" font-family="Liberation Sans" font-size="15" text-anchor="start" fill="#1c1c1c" stroke="#1c1c1c" stroke-width="0.3" textLength="22.2" lengthAdjust="spacingAndGlyphs">1,5</text>
<text x="462.5" y="42.5" font-family="Liberation Sans" font-size="15" text-anchor="start" fill="#1c1c1c" stroke="#1c1c1c" stroke-width="0.3" textLength="8.6" lengthAdjust="spacingAndGlyphs">2</text>
<text x="106.0" y="317.6" font-family="Liberation Sans" font-size="15" text-anchor="middle" fill="#1c1c1c" stroke="#1c1c1c" stroke-width="0.3" textLength="16.9" lengthAdjust="spacingAndGlyphs">10</text>
<text x="142.2" y="317.6" font-family="Liberation Sans" font-size="15" text-anchor="middle" fill="#1c1c1c" stroke="#1c1c1c" stroke-width="0.3" textLength="16.9" lengthAdjust="spacingAndGlyphs">20</text>
<text x="178.3" y="317.6" font-family="Liberation Sans" font-size="15" text-anchor="middle" fill="#1c1c1c" stroke="#1c1c1c" stroke-width="0.3" textLength="16.9" lengthAdjust="spacingAndGlyphs">30</text>
<text x="214.5" y="317.6" font-family="Liberation Sans" font-size="15" text-anchor="middle" fill="#1c1c1c" stroke="#1c1c1c" stroke-width="0.3" textLength="16.9" lengthAdjust="spacingAndGlyphs">40</text>
<text x="250.7" y="317.6" font-family="Liberation Sans" font-size="15" text-anchor="middle" fill="#1c1c1c" stroke="#1c1c1c" stroke-width="0.3" textLength="16.9" lengthAdjust="spacingAndGlyphs">50</text>
<text x="286.9" y="317.6" font-family="Liberation Sans" font-size="15" text-anchor="middle" fill="#1c1c1c" stroke="#1c1c1c" stroke-width="0.3" textLength="16.9" lengthAdjust="spacingAndGlyphs">60</text>
<text x="323.0" y="317.6" font-family="Liberation Sans" font-size="15" text-anchor="middle" fill="#1c1c1c" stroke="#1c1c1c" stroke-width="0.3" textLength="16.9" lengthAdjust="spacingAndGlyphs">70</text>
<text x="359.2" y="317.6" font-family="Liberation Sans" font-size="15" text-anchor="middle" fill="#1c1c1c" stroke="#1c1c1c" stroke-width="0.3" textLength="16.9" lengthAdjust="spacingAndGlyphs">80</text>
<text x="395.4" y="317.6" font-family="Liberation Sans" font-size="15" text-anchor="middle" fill="#1c1c1c" stroke="#1c1c1c" stroke-width="0.3" textLength="16.9" lengthAdjust="spacingAndGlyphs">90</text>
<text x="431.5" y="317.6" font-family="Liberation Sans" font-size="15" text-anchor="middle" fill="#1c1c1c" stroke="#1c1c1c" stroke-width="0.3" textLength="25.4" lengthAdjust="spacingAndGlyphs">100</text>
<text x="224.5" y="339.7" font-family="Liberation Sans" font-size="15" text-anchor="start" fill="#1c1c1c" stroke="#1c1c1c" stroke-width="0.3" textLength="103.8" lengthAdjust="spacingAndGlyphs">Resolution (m)</text>
<text x="40.5" y="159.4" transform="rotate(-90 40.5 159.4)" font-family="Liberation Sans" font-size="14.5" text-anchor="middle" fill="#1c1c1c" stroke="#1c1c1c" stroke-width="0.3" textLength="56.2" lengthAdjust="spacingAndGlyphs">Variance</text>
<text x="500.0" y="150.6" transform="rotate(90 500.0 150.6)" font-family="Liberation Sans" font-size="14.5" text-anchor="middle" fill="#1c1c1c" stroke="#1c1c1c" stroke-width="0.3" textLength="112.0" lengthAdjust="spacingAndGlyphs">Fractal dimension</text>
<path d="M106.0,264.5 C112.0,264.5 130.1,264.4 142.2,264.3 C154.2,264.2 166.3,264.3 178.3,264.2 C190.4,264.1 202.5,264.0 214.5,263.7 C226.6,263.4 238.6,262.8 250.7,262.3 C262.7,261.8 274.8,260.9 286.9,260.5 C298.9,260.1 311.0,259.6 323.0,259.8 C335.1,260.1 347.1,261.9 359.2,262.0 C371.2,262.1 383.3,259.7 395.4,260.5 C407.4,261.3 425.5,265.9 431.5,267.0" stroke="#9a9a9a" stroke-width="3.2" fill="none"/>
<path d="M106.0,245.5 C112.0,245.4 130.1,244.7 142.2,244.9 C154.2,245.1 166.3,246.8 178.3,246.9 C190.4,247.0 202.5,246.2 214.5,245.5 C226.6,244.8 238.6,243.4 250.7,242.8 C262.7,242.2 274.8,242.0 286.9,241.8 C298.9,241.6 311.0,240.3 323.0,241.6 C335.1,242.9 347.1,248.2 359.2,249.4 C371.2,250.6 383.3,249.5 395.4,248.8 C407.4,248.2 425.5,246.1 431.5,245.5" stroke="#000" stroke-width="3.6" fill="none" stroke-linecap="round"/>
<path d="M106.0,237.7 C112.0,237.7 130.1,237.5 142.2,237.7 C154.2,237.9 166.3,238.8 178.3,239.0 C190.4,239.2 202.5,239.3 214.5,238.7 C226.6,238.1 238.6,236.7 250.7,235.6 C262.7,234.5 274.8,232.8 286.9,232.0 C298.9,231.2 311.0,230.0 323.0,230.5 C335.1,231.0 347.1,234.5 359.2,235.0 C371.2,235.5 383.3,232.2 395.4,233.4 C407.4,234.6 425.5,240.7 431.5,242.2" stroke="#111" stroke-width="1.8" fill="none" stroke-dasharray="4.6 2.9"/>
<path d="M106.0,210.0 C112.0,210.1 130.1,210.0 142.2,210.7 C154.2,211.4 166.3,213.1 178.3,214.3 C190.4,215.5 202.5,217.8 214.5,217.8 C226.6,217.8 238.6,216.8 250.7,214.4 C262.7,212.1 277.8,205.7 286.9,203.7 C295.9,201.7 298.9,202.5 304.9,202.6 C311.0,202.7 314.0,202.1 323.0,204.5 C332.1,206.9 347.1,216.2 359.2,216.8 C371.2,217.5 383.3,207.1 395.4,208.4 C407.4,209.7 425.5,221.7 431.5,224.4" stroke="#000" stroke-width="3.6" fill="none" stroke-dasharray="11 11" stroke-linecap="round"/>
<path d="M106.0,195.3 C112.0,195.5 130.1,195.2 142.2,196.3 C154.2,197.4 166.3,199.8 178.3,201.6 C190.4,203.4 202.5,207.8 214.5,207.4 C226.6,207.0 238.6,201.7 250.7,199.3 C262.7,196.9 274.8,194.5 286.9,193.2 C298.9,191.9 311.0,190.8 323.0,191.4 C335.1,192.0 347.1,196.4 359.2,197.0 C371.2,197.6 383.3,195.2 395.4,195.0 C407.4,194.8 425.5,195.8 431.5,196.0" stroke="#1a1a1a" stroke-width="1.4" fill="none"/>
<path d="M106.0,147.3 C112.0,148.0 130.1,149.1 142.2,151.2 C154.2,153.2 166.3,157.0 178.3,159.6 C190.4,162.2 202.5,167.3 214.5,167.0 C226.6,166.7 238.6,161.3 250.7,157.6 C262.7,153.9 278.4,147.3 286.9,144.6 C295.3,141.9 295.3,141.1 301.3,141.2 C307.3,141.3 313.4,142.4 323.0,145.3 C332.7,148.2 347.1,157.8 359.2,158.6 C371.2,159.3 383.3,147.6 395.4,149.8 C407.4,152.0 425.5,168.2 431.5,171.9" stroke="#111" stroke-width="2" fill="none" stroke-dasharray="8.6 6"/>
<path d="M106.0,42.2 L142.2,39.4 L178.3,43.7 L214.5,43.0 L250.7,43.6 L286.9,43.0 L323.0,44.5 L359.2,45.0 L395.4,44.0 L431.5,43.0" stroke="#e3121c" stroke-width="3.3" fill="none" stroke-linejoin="round"/>
<rect x="101.8" y="38.0" width="8.4" height="8.4" fill="#6e3272" stroke="#b8122a" stroke-width="1.8"/>
<rect x="138.0" y="35.2" width="8.4" height="8.4" fill="#6e3272" stroke="#b8122a" stroke-width="1.8"/>
<rect x="174.1" y="39.5" width="8.4" height="8.4" fill="#6e3272" stroke="#b8122a" stroke-width="1.8"/>
<rect x="210.3" y="38.8" width="8.4" height="8.4" fill="#6e3272" stroke="#b8122a" stroke-width="1.8"/>
<rect x="246.5" y="39.4" width="8.4" height="8.4" fill="#6e3272" stroke="#b8122a" stroke-width="1.8"/>
<rect x="282.7" y="38.8" width="8.4" height="8.4" fill="#6e3272" stroke="#b8122a" stroke-width="1.8"/>
<rect x="318.8" y="40.3" width="8.4" height="8.4" fill="#6e3272" stroke="#b8122a" stroke-width="1.8"/>
<rect x="355.0" y="40.8" width="8.4" height="8.4" fill="#6e3272" stroke="#b8122a" stroke-width="1.8"/>
<rect x="391.2" y="39.8" width="8.4" height="8.4" fill="#6e3272" stroke="#b8122a" stroke-width="1.8"/>
<rect x="427.3" y="38.8" width="8.4" height="8.4" fill="#6e3272" stroke="#b8122a" stroke-width="1.8"/>
<path d="M106.0,133.6 L142.2,160.2 L178.3,175.8 L214.5,194.6 L250.7,187.5 L286.9,245.8 L323.0,250.0 L359.2,266.4 L395.4,266.0 L431.5,274.2" stroke="#79b828" stroke-width="3.3" fill="none" stroke-linejoin="round"/>
<circle cx="106.0" cy="133.6" r="4.4" fill="#79b828"/>
<circle cx="142.2" cy="160.2" r="4.4" fill="#79b828"/>
<circle cx="178.3" cy="175.8" r="4.4" fill="#79b828"/>
<circle cx="214.5" cy="194.6" r="4.4" fill="#79b828"/>
<circle cx="250.7" cy="187.5" r="4.4" fill="#79b828"/>
<circle cx="286.9" cy="245.8" r="4.4" fill="#79b828"/>
<circle cx="323.0" cy="250.0" r="4.4" fill="#79b828"/>
<circle cx="359.2" cy="266.4" r="4.4" fill="#79b828"/>
<circle cx="395.4" cy="266.0" r="4.4" fill="#79b828"/>
<circle cx="431.5" cy="274.2" r="4.4" fill="#79b828"/>
<text x="227.9" y="78.6" font-family="Liberation Serif" font-size="18" text-anchor="start" fill="#111" font-weight="bold" textLength="213.3" lengthAdjust="spacingAndGlyphs">a. Administrative districts</text>
<text x="248.8" y="99.9" font-family="Liberation Serif" font-size="18" text-anchor="start" fill="#111" font-weight="bold" textLength="171.1" lengthAdjust="spacingAndGlyphs">(old colonial districts)</text>
<text x="186.4" y="114.6" font-family="Liberation Serif" font-size="18" text-anchor="start" fill="#000" font-weight="bold" font-style="italic" textLength="34.2" lengthAdjust="spacingAndGlyphs">OSR</text>
<line x1="203.4" y1="130.3" x2="203.4" y2="143.5" stroke="#000" stroke-width="2.6"/>
<path d="M190.8,140.5 L203.4,144.5 L216.0,140.5 L203.4,162.5 Z" fill="#000"/>
<line x1="88.5" y1="562.3" x2="448.5" y2="562.3" stroke="#efefef" stroke-width="1.4" stroke-dasharray="12 4"/>
<line x1="88.5" y1="509.4" x2="448.5" y2="509.4" stroke="#efefef" stroke-width="1.4" stroke-dasharray="12 4"/>
<line x1="88.5" y1="456.0" x2="448.5" y2="456.0" stroke="#efefef" stroke-width="1.4" stroke-dasharray="12 4"/>
<line x1="88.5" y1="402.8" x2="448.5" y2="402.8" stroke="#efefef" stroke-width="1.4" stroke-dasharray="12 4"/>
<path d="M87.5,349.2 L449.5,349.2 L449.5,615.6" stroke="#8a8a8a" stroke-width="1.3" fill="none"/>
<line x1="87.5" y1="349.2" x2="87.5" y2="615.6" stroke="#8a8a8a" stroke-width="1.4"/>
<line x1="83.5" y1="615.6" x2="454.5" y2="615.6" stroke="#8a8a8a" stroke-width="1.5"/>
<line x1="83.5" y1="562.3" x2="87.5" y2="562.3" stroke="#8a8a8a" stroke-width="1.2"/>
<line x1="83.5" y1="509.4" x2="87.5" y2="509.4" stroke="#8a8a8a" stroke-width="1.2"/>
<line x1="83.5" y1="456.0" x2="87.5" y2="456.0" stroke="#8a8a8a" stroke-width="1.2"/>
<line x1="83.5" y1="402.8" x2="87.5" y2="402.8" stroke="#8a8a8a" stroke-width="1.2"/>
<line x1="83.5" y1="349.2" x2="87.5" y2="349.2" stroke="#8a8a8a" stroke-width="1.2"/>
<line x1="105.8" y1="615.6" x2="105.8" y2="619.6" stroke="#8a8a8a" stroke-width="1.2"/>
<line x1="142.0" y1="615.6" x2="142.0" y2="619.6" stroke="#8a8a8a" stroke-width="1.2"/>
<line x1="178.2" y1="615.6" x2="178.2" y2="619.6" stroke="#8a8a8a" stroke-width="1.2"/>
<line x1="214.3" y1="615.6" x2="214.3" y2="619.6" stroke="#8a8a8a" stroke-width="1.2"/>
<line x1="250.5" y1="615.6" x2="250.5" y2="619.6" stroke="#8a8a8a" stroke-width="1.2"/>
<line x1="286.7" y1="615.6" x2="286.7" y2="619.6" stroke="#8a8a8a" stroke-width="1.2"/>
<line x1="322.9" y1="615.6" x2="322.9" y2="619.6" stroke="#8a8a8a" stroke-width="1.2"/>
<line x1="359.1" y1="615.6" x2="359.1" y2="619.6" stroke="#8a8a8a" stroke-width="1.2"/>
<line x1="395.2" y1="615.6" x2="395.2" y2="619.6" stroke="#8a8a8a" stroke-width="1.2"/>
<line x1="431.4" y1="615.6" x2="431.4" y2="619.6" stroke="#8a8a8a" stroke-width="1.2"/>
<line x1="445.5" y1="362.0" x2="454.5" y2="362.0" stroke="#8a8a8a" stroke-width="1.2"/>
<line x1="445.5" y1="425.7" x2="454.5" y2="425.7" stroke="#8a8a8a" stroke-width="1.2"/>
<line x1="445.5" y1="488.4" x2="454.5" y2="488.4" stroke="#8a8a8a" stroke-width="1.2"/>
<line x1="445.5" y1="552.4" x2="454.5" y2="552.4" stroke="#8a8a8a" stroke-width="1.2"/>
<text x="74.6" y="622.9" font-family="Liberation Sans" font-size="15" text-anchor="end" fill="#1c1c1c" stroke="#1c1c1c" stroke-width="0.3" textLength="8.6" lengthAdjust="spacingAndGlyphs">0</text>
<text x="74.6" y="569.2" font-family="Liberation Sans" font-size="15" text-anchor="end" fill="#1c1c1c" stroke="#1c1c1c" stroke-width="0.3" textLength="16.9" lengthAdjust="spacingAndGlyphs">10</text>
<text x="74.6" y="515.4" font-family="Liberation Sans" font-size="15" text-anchor="end" fill="#1c1c1c" stroke="#1c1c1c" stroke-width="0.3" textLength="16.9" lengthAdjust="spacingAndGlyphs">20</text>
<text x="74.6" y="460.3" font-family="Liberation Sans" font-size="15" text-anchor="end" fill="#1c1c1c" stroke="#1c1c1c" stroke-width="0.3" textLength="16.9" lengthAdjust="spacingAndGlyphs">30</text>
<text x="74.6" y="406.0" font-family="Liberation Sans" font-size="15" text-anchor="end" fill="#1c1c1c" stroke="#1c1c1c" stroke-width="0.3" textLength="16.9" lengthAdjust="spacingAndGlyphs">40</text>
<text x="74.6" y="351.3" font-family="Liberation Sans" font-size="15" text-anchor="end" fill="#1c1c1c" stroke="#1c1c1c" stroke-width="0.3" textLength="16.9" lengthAdjust="spacingAndGlyphs">50</text>
<text x="460.9" y="621.9" font-family="Liberation Sans" font-size="15" text-anchor="start" fill="#1c1c1c" stroke="#1c1c1c" stroke-width="0.3" textLength="8.6" lengthAdjust="spacingAndGlyphs">0</text>
<text x="460.9" y="557.3" font-family="Liberation Sans" font-size="15" text-anchor="start" fill="#1c1c1c" stroke="#1c1c1c" stroke-width="0.3" textLength="22.2" lengthAdjust="spacingAndGlyphs">0,5</text>
<text x="460.9" y="493.0" font-family="Liberation Sans" font-size="15" text-anchor="start" fill="#1c1c1c" stroke="#1c1c1c" stroke-width="0.3" textLength="8.6" lengthAdjust="spacingAndGlyphs">1</text>
<text x="460.9" y="428.9" font-family="Liberation Sans" font-size="15" text-anchor="start" fill="#1c1c1c" stroke="#1c1c1c" stroke-width="0.3" textLength="22.2" lengthAdjust="spacingAndGlyphs">1,5</text>
<text x="460.9" y="364.2" font-family="Liberation Sans" font-size="15" text-anchor="start" fill="#1c1c1c" stroke="#1c1c1c" stroke-width="0.3" textLength="8.6" lengthAdjust="spacingAndGlyphs">2</text>
<text x="105.8" y="638.6" font-family="Liberation Sans" font-size="15" text-anchor="middle" fill="#1c1c1c" stroke="#1c1c1c" stroke-width="0.3" textLength="16.9" lengthAdjust="spacingAndGlyphs">10</text>
<text x="142.0" y="638.6" font-family="Liberation Sans" font-size="15" text-anchor="middle" fill="#1c1c1c" stroke="#1c1c1c" stroke-width="0.3" textLength="16.9" lengthAdjust="spacingAndGlyphs">20</text>
<text x="178.2" y="638.6" font-family="Liberation Sans" font-size="15" text-anchor="middle" fill="#1c1c1c" stroke="#1c1c1c" stroke-width="0.3" textLength="16.9" lengthAdjust="spacingAndGlyphs">30</text>
<text x="214.3" y="638.6" font-family="Liberation Sans" font-size="15" text-anchor="middle" fill="#1c1c1c" stroke="#1c1c1c" stroke-width="0.3" textLength="16.9" lengthAdjust="spacingAndGlyphs">40</text>
<text x="250.5" y="638.6" font-family="Liberation Sans" font-size="15" text-anchor="middle" fill="#1c1c1c" stroke="#1c1c1c" stroke-width="0.3" textLength="16.9" lengthAdjust="spacingAndGlyphs">50</text>
<text x="286.7" y="638.6" font-family="Liberation Sans" font-size="15" text-anchor="middle" fill="#1c1c1c" stroke="#1c1c1c" stroke-width="0.3" textLength="16.9" lengthAdjust="spacingAndGlyphs">60</text>
<text x="322.9" y="638.6" font-family="Liberation Sans" font-size="15" text-anchor="middle" fill="#1c1c1c" stroke="#1c1c1c" stroke-width="0.3" textLength="16.9" lengthAdjust="spacingAndGlyphs">70</text>
<text x="359.1" y="638.6" font-family="Liberation Sans" font-size="15" text-anchor="middle" fill="#1c1c1c" stroke="#1c1c1c" stroke-width="0.3" textLength="16.9" lengthAdjust="spacingAndGlyphs">80</text>
<text x="395.2" y="638.6" font-family="Liberation Sans" font-size="15" text-anchor="middle" fill="#1c1c1c" stroke="#1c1c1c" stroke-width="0.3" textLength="16.9" lengthAdjust="spacingAndGlyphs">90</text>
<text x="431.4" y="638.6" font-family="Liberation Sans" font-size="15" text-anchor="middle" fill="#1c1c1c" stroke="#1c1c1c" stroke-width="0.3" textLength="25.4" lengthAdjust="spacingAndGlyphs">100</text>
<text x="213.7" y="658.0" font-family="Liberation Sans" font-size="15" text-anchor="start" fill="#1c1c1c" stroke="#1c1c1c" stroke-width="0.3" textLength="103.1" lengthAdjust="spacingAndGlyphs">Resolution (m)</text>
<text x="38.2" y="481.6" transform="rotate(-90 38.2 481.6)" font-family="Liberation Sans" font-size="14.5" text-anchor="middle" fill="#1c1c1c" stroke="#1c1c1c" stroke-width="0.3" textLength="56.0" lengthAdjust="spacingAndGlyphs">Variance</text>
<text x="498.4" y="472.4" transform="rotate(90 498.4 472.4)" font-family="Liberation Sans" font-size="14.5" text-anchor="middle" fill="#1c1c1c" stroke="#1c1c1c" stroke-width="0.3" textLength="111.5" lengthAdjust="spacingAndGlyphs">Fractal dimension</text>
<path d="M105.8,559.0 C111.8,558.9 129.9,558.7 142.0,558.5 C154.0,558.3 166.1,558.3 178.2,558.0 C190.2,557.7 202.3,557.2 214.3,556.8 C226.4,556.4 238.5,555.9 250.5,555.5 C262.6,555.1 274.6,555.1 286.7,554.6 C298.8,554.1 310.8,552.6 322.9,552.8 C334.9,553.0 347.0,555.3 359.1,555.6 C371.1,555.9 383.2,556.0 395.2,554.6 C407.3,553.2 425.4,548.4 431.4,547.2" stroke="#9a9a9a" stroke-width="3.2" fill="none"/>
<path d="M105.8,522.4 C111.8,522.2 129.9,521.6 142.0,521.5 C154.0,521.4 166.1,521.9 178.2,521.5 C190.2,521.1 202.3,519.7 214.3,519.1 C226.4,518.5 238.5,518.2 250.5,517.8 C262.6,517.4 274.6,517.4 286.7,516.6 C298.8,515.8 310.8,512.8 322.9,512.9 C334.9,513.0 347.0,516.1 359.1,517.2 C371.1,518.3 383.2,522.4 395.2,519.4 C407.3,516.4 425.4,502.4 431.4,499.0" stroke="#000" stroke-width="3.6" fill="none" stroke-linecap="round"/>
<path d="M105.8,521.8 C111.8,521.7 129.9,521.5 142.0,521.3 C154.0,521.1 166.1,521.0 178.2,520.5 C190.2,520.0 202.3,519.1 214.3,518.4 C226.4,517.6 238.5,516.9 250.5,516.0 C262.6,515.1 274.6,514.1 286.7,512.9 C298.8,511.7 310.8,509.1 322.9,508.6 C334.9,508.1 347.0,509.8 359.1,509.7 C371.1,509.6 383.2,508.8 395.2,507.9 C407.3,507.0 425.4,505.2 431.4,504.6" stroke="#111" stroke-width="1.8" fill="none" stroke-dasharray="4.6 2.9"/>
<path d="M105.8,505.4 C111.8,505.2 129.9,505.0 142.0,504.5 C154.0,504.0 166.1,503.6 178.2,502.6 C190.2,501.6 202.3,499.2 214.3,498.3 C226.4,497.4 238.5,498.0 250.5,497.4 C262.6,496.8 274.6,495.9 286.7,494.4 C298.8,492.9 310.8,489.6 322.9,488.4 C334.9,487.2 347.0,487.7 359.1,487.0 C371.1,486.3 383.2,485.2 395.2,484.1 C407.3,483.0 425.4,481.0 431.4,480.4" stroke="#000" stroke-width="3.6" fill="none" stroke-dasharray="11 11" stroke-linecap="round"/>
<path d="M105.8,485.7 C111.8,485.6 129.9,485.2 142.0,484.8 C154.0,484.4 166.1,484.2 178.2,483.5 C190.2,482.8 202.3,479.5 214.3,480.7 C226.4,481.9 238.5,489.5 250.5,490.5 C262.6,491.5 274.6,488.3 286.7,486.9 C298.8,485.5 310.8,483.3 322.9,482.3 C334.9,481.3 347.0,481.6 359.1,481.0 C371.1,480.4 383.2,480.7 395.2,479.0 C407.3,477.3 425.4,472.2 431.4,470.8" stroke="#1a1a1a" stroke-width="1.4" fill="none"/>
<path d="M105.8,426.3 C111.8,425.9 129.9,424.6 142.0,424.1 C154.0,423.6 169.1,423.9 178.2,423.2 C187.2,422.5 190.2,420.9 196.2,419.8 C202.3,418.7 208.3,416.6 214.3,416.3 C220.4,416.0 226.4,417.4 232.4,418.2 C238.5,418.9 241.5,421.2 250.5,420.8 C259.6,420.4 274.6,417.5 286.7,415.5 C298.8,413.5 310.8,410.8 322.9,409.0 C334.9,407.2 347.0,407.8 359.1,404.7 C371.1,401.6 383.2,394.1 395.2,390.5 C407.3,386.9 425.4,384.2 431.4,383.0" stroke="#111" stroke-width="2" fill="none" stroke-dasharray="8.6 6"/>
<path d="M105.8,369.0 L142.0,370.8 L178.2,372.0 L214.3,372.5 L250.5,373.2 L286.7,376.9 L322.9,380.6 L359.1,383.0 L395.2,388.6 L431.4,391.8" stroke="#e3121c" stroke-width="3.3" fill="none" stroke-linejoin="round"/>
<rect x="101.6" y="364.8" width="8.4" height="8.4" fill="#6e3272" stroke="#b8122a" stroke-width="1.8"/>
<rect x="137.8" y="366.6" width="8.4" height="8.4" fill="#6e3272" stroke="#b8122a" stroke-width="1.8"/>
<rect x="174.0" y="367.8" width="8.4" height="8.4" fill="#6e3272" stroke="#b8122a" stroke-width="1.8"/>
<rect x="210.1" y="368.3" width="8.4" height="8.4" fill="#6e3272" stroke="#b8122a" stroke-width="1.8"/>
<rect x="246.3" y="369.1" width="8.4" height="8.4" fill="#6e3272" stroke="#b8122a" stroke-width="1.8"/>
<rect x="282.5" y="372.7" width="8.4" height="8.4" fill="#6e3272" stroke="#b8122a" stroke-width="1.8"/>
<rect x="318.7" y="376.4" width="8.4" height="8.4" fill="#6e3272" stroke="#b8122a" stroke-width="1.8"/>
<rect x="354.9" y="378.8" width="8.4" height="8.4" fill="#6e3272" stroke="#b8122a" stroke-width="1.8"/>
<rect x="391.0" y="384.4" width="8.4" height="8.4" fill="#6e3272" stroke="#b8122a" stroke-width="1.8"/>
<rect x="427.2" y="387.6" width="8.4" height="8.4" fill="#6e3272" stroke="#b8122a" stroke-width="1.8"/>
<path d="M105.8,438.6 L142.0,451.6 L178.2,467.2 L214.3,480.1 L250.5,486.3 L286.7,513.5 L322.9,514.2 L359.1,526.4 L395.2,526.4 L431.4,527.7" stroke="#79b828" stroke-width="3.3" fill="none" stroke-linejoin="round"/>
<circle cx="105.8" cy="438.6" r="4.4" fill="#79b828"/>
<circle cx="142.0" cy="451.6" r="4.4" fill="#79b828"/>
<circle cx="178.2" cy="467.2" r="4.4" fill="#79b828"/>
<circle cx="214.3" cy="480.1" r="4.4" fill="#79b828"/>
<circle cx="250.5" cy="486.3" r="4.4" fill="#79b828"/>
<circle cx="286.7" cy="513.5" r="4.4" fill="#79b828"/>
<circle cx="322.9" cy="514.2" r="4.4" fill="#79b828"/>
<circle cx="359.1" cy="526.4" r="4.4" fill="#79b828"/>
<circle cx="395.2" cy="526.4" r="4.4" fill="#79b828"/>
<circle cx="431.4" cy="527.7" r="4.4" fill="#79b828"/>
<text x="268.9" y="370.0" font-family="Liberation Serif" font-size="18" text-anchor="start" fill="#111" font-weight="bold" textLength="172.0" lengthAdjust="spacingAndGlyphs">b. Industrial districts</text>
<text x="230.7" y="397.6" font-family="Liberation Serif" font-size="19" text-anchor="start" fill="#000" font-weight="bold" font-style="italic" textLength="34.9" lengthAdjust="spacingAndGlyphs">OSR</text>
<line x1="248.0" y1="414.0" x2="248.0" y2="425.8" stroke="#000" stroke-width="2.6"/>
<path d="M235.7,422.8 L248.0,426.8 L260.3,422.8 L248.0,445.4 Z" fill="#000"/>
<line x1="83.5" y1="877.3" x2="448.0" y2="877.3" stroke="#efefef" stroke-width="1.4" stroke-dasharray="12 4"/>
<line x1="83.5" y1="825.3" x2="448.0" y2="825.3" stroke="#efefef" stroke-width="1.4" stroke-dasharray="12 4"/>
<line x1="83.5" y1="773.2" x2="448.0" y2="773.2" stroke="#efefef" stroke-width="1.4" stroke-dasharray="12 4"/>
<line x1="83.5" y1="721.4" x2="448.0" y2="721.4" stroke="#efefef" stroke-width="1.4" stroke-dasharray="12 4"/>
<path d="M82.5,668.6 L449.0,668.6 L449.0,929.3" stroke="#8a8a8a" stroke-width="1.3" fill="none"/>
<line x1="82.5" y1="668.6" x2="82.5" y2="929.3" stroke="#8a8a8a" stroke-width="1.4"/>
<line x1="78.5" y1="929.3" x2="454.0" y2="929.3" stroke="#8a8a8a" stroke-width="1.5"/>
<line x1="78.5" y1="877.3" x2="82.5" y2="877.3" stroke="#8a8a8a" stroke-width="1.2"/>
<line x1="78.5" y1="825.3" x2="82.5" y2="825.3" stroke="#8a8a8a" stroke-width="1.2"/>
<line x1="78.5" y1="773.2" x2="82.5" y2="773.2" stroke="#8a8a8a" stroke-width="1.2"/>
<line x1="78.5" y1="721.4" x2="82.5" y2="721.4" stroke="#8a8a8a" stroke-width="1.2"/>
<line x1="78.5" y1="668.6" x2="82.5" y2="668.6" stroke="#8a8a8a" stroke-width="1.2"/>
<line x1="101.0" y1="929.3" x2="101.0" y2="933.3" stroke="#8a8a8a" stroke-width="1.2"/>
<line x1="137.6" y1="929.3" x2="137.6" y2="933.3" stroke="#8a8a8a" stroke-width="1.2"/>
<line x1="174.2" y1="929.3" x2="174.2" y2="933.3" stroke="#8a8a8a" stroke-width="1.2"/>
<line x1="210.8" y1="929.3" x2="210.8" y2="933.3" stroke="#8a8a8a" stroke-width="1.2"/>
<line x1="247.4" y1="929.3" x2="247.4" y2="933.3" stroke="#8a8a8a" stroke-width="1.2"/>
<line x1="284.1" y1="929.3" x2="284.1" y2="933.3" stroke="#8a8a8a" stroke-width="1.2"/>
<line x1="320.7" y1="929.3" x2="320.7" y2="933.3" stroke="#8a8a8a" stroke-width="1.2"/>
<line x1="357.3" y1="929.3" x2="357.3" y2="933.3" stroke="#8a8a8a" stroke-width="1.2"/>
<line x1="393.9" y1="929.3" x2="393.9" y2="933.3" stroke="#8a8a8a" stroke-width="1.2"/>
<line x1="430.5" y1="929.3" x2="430.5" y2="933.3" stroke="#8a8a8a" stroke-width="1.2"/>
<line x1="445.0" y1="681.2" x2="454.0" y2="681.2" stroke="#8a8a8a" stroke-width="1.2"/>
<line x1="445.0" y1="743.7" x2="454.0" y2="743.7" stroke="#8a8a8a" stroke-width="1.2"/>
<line x1="445.0" y1="805.8" x2="454.0" y2="805.8" stroke="#8a8a8a" stroke-width="1.2"/>
<line x1="445.0" y1="867.1" x2="454.0" y2="867.1" stroke="#8a8a8a" stroke-width="1.2"/>
<text x="68.6" y="937.6" font-family="Liberation Sans" font-size="15" text-anchor="end" fill="#1c1c1c" stroke="#1c1c1c" stroke-width="0.3" textLength="8.6" lengthAdjust="spacingAndGlyphs">0</text>
<text x="68.6" y="882.9" font-family="Liberation Sans" font-size="15" text-anchor="end" fill="#1c1c1c" stroke="#1c1c1c" stroke-width="0.3" textLength="17.8" lengthAdjust="spacingAndGlyphs">10</text>
<text x="68.6" y="829.7" font-family="Liberation Sans" font-size="15" text-anchor="end" fill="#1c1c1c" stroke="#1c1c1c" stroke-width="0.3" textLength="17.8" lengthAdjust="spacingAndGlyphs">20</text>
<text x="68.6" y="774.6" font-family="Liberation Sans" font-size="15" text-anchor="end" fill="#1c1c1c" stroke="#1c1c1c" stroke-width="0.3" textLength="17.8" lengthAdjust="spacingAndGlyphs">30</text>
<text x="68.6" y="720.3" font-family="Liberation Sans" font-size="15" text-anchor="end" fill="#1c1c1c" stroke="#1c1c1c" stroke-width="0.3" textLength="17.8" lengthAdjust="spacingAndGlyphs">40</text>
<text x="68.6" y="665.5" font-family="Liberation Sans" font-size="15" text-anchor="end" fill="#1c1c1c" stroke="#1c1c1c" stroke-width="0.3" textLength="17.8" lengthAdjust="spacingAndGlyphs">50</text>
<text x="455.5" y="937.5" font-family="Liberation Sans" font-size="15" text-anchor="start" fill="#1c1c1c" stroke="#1c1c1c" stroke-width="0.3" textLength="8.6" lengthAdjust="spacingAndGlyphs">0</text>
<text x="455.5" y="873.2" font-family="Liberation Sans" font-size="15" text-anchor="start" fill="#1c1c1c" stroke="#1c1c1c" stroke-width="0.3" textLength="22.2" lengthAdjust="spacingAndGlyphs">0,5</text>
<text x="455.5" y="808.5" font-family="Liberation Sans" font-size="15" text-anchor="start" fill="#1c1c1c" stroke="#1c1c1c" stroke-width="0.3" textLength="8.6" lengthAdjust="spacingAndGlyphs">1</text>
<text x="455.5" y="743.9" font-family="Liberation Sans" font-size="15" text-anchor="start" fill="#1c1c1c" stroke="#1c1c1c" stroke-width="0.3" textLength="22.2" lengthAdjust="spacingAndGlyphs">1,5</text>
<text x="455.5" y="678.2" font-family="Liberation Sans" font-size="15" text-anchor="start" fill="#1c1c1c" stroke="#1c1c1c" stroke-width="0.3" textLength="8.6" lengthAdjust="spacingAndGlyphs">2</text>
<text x="99.2" y="953.7" font-family="Liberation Sans" font-size="15" text-anchor="middle" fill="#1c1c1c" stroke="#1c1c1c" stroke-width="0.3" textLength="16.9" lengthAdjust="spacingAndGlyphs">10</text>
<text x="135.5" y="953.7" font-family="Liberation Sans" font-size="15" text-anchor="middle" fill="#1c1c1c" stroke="#1c1c1c" stroke-width="0.3" textLength="16.9" lengthAdjust="spacingAndGlyphs">20</text>
<text x="171.9" y="953.7" font-family="Liberation Sans" font-size="15" text-anchor="middle" fill="#1c1c1c" stroke="#1c1c1c" stroke-width="0.3" textLength="16.9" lengthAdjust="spacingAndGlyphs">30</text>
<text x="208.2" y="953.7" font-family="Liberation Sans" font-size="15" text-anchor="middle" fill="#1c1c1c" stroke="#1c1c1c" stroke-width="0.3" textLength="16.9" lengthAdjust="spacingAndGlyphs">40</text>
<text x="244.6" y="953.7" font-family="Liberation Sans" font-size="15" text-anchor="middle" fill="#1c1c1c" stroke="#1c1c1c" stroke-width="0.3" textLength="16.9" lengthAdjust="spacingAndGlyphs">50</text>
<text x="280.9" y="953.7" font-family="Liberation Sans" font-size="15" text-anchor="middle" fill="#1c1c1c" stroke="#1c1c1c" stroke-width="0.3" textLength="16.9" lengthAdjust="spacingAndGlyphs">60</text>
<text x="317.2" y="953.7" font-family="Liberation Sans" font-size="15" text-anchor="middle" fill="#1c1c1c" stroke="#1c1c1c" stroke-width="0.3" textLength="16.9" lengthAdjust="spacingAndGlyphs">70</text>
<text x="353.6" y="953.7" font-family="Liberation Sans" font-size="15" text-anchor="middle" fill="#1c1c1c" stroke="#1c1c1c" stroke-width="0.3" textLength="16.9" lengthAdjust="spacingAndGlyphs">80</text>
<text x="389.9" y="953.7" font-family="Liberation Sans" font-size="15" text-anchor="middle" fill="#1c1c1c" stroke="#1c1c1c" stroke-width="0.3" textLength="16.9" lengthAdjust="spacingAndGlyphs">90</text>
<text x="426.3" y="953.7" font-family="Liberation Sans" font-size="15" text-anchor="middle" fill="#1c1c1c" stroke="#1c1c1c" stroke-width="0.3" textLength="25.4" lengthAdjust="spacingAndGlyphs">100</text>
<text x="209.8" y="969.0" font-family="Liberation Sans" font-size="15" text-anchor="start" fill="#1c1c1c" stroke="#1c1c1c" stroke-width="0.3" textLength="103.4" lengthAdjust="spacingAndGlyphs">Resolution (m)</text>
<text x="33.7" y="796.1" transform="rotate(-90 33.7 796.1)" font-family="Liberation Sans" font-size="14.5" text-anchor="middle" fill="#1c1c1c" stroke="#1c1c1c" stroke-width="0.3" textLength="54.8" lengthAdjust="spacingAndGlyphs">Variance</text>
<text x="492.8" y="787.3" transform="rotate(90 492.8 787.3)" font-family="Liberation Sans" font-size="14.5" text-anchor="middle" fill="#1c1c1c" stroke="#1c1c1c" stroke-width="0.3" textLength="111.4" lengthAdjust="spacingAndGlyphs">Fractal dimension</text>
<path d="M101.0,901.0 C107.1,900.9 125.4,900.7 137.6,900.5 C149.8,900.3 162.0,900.2 174.2,900.0 C186.4,899.8 198.6,899.6 210.8,899.5 C223.0,899.4 235.2,899.3 247.4,899.1 C259.6,898.9 271.8,898.2 284.1,898.2 C296.3,898.2 308.5,899.3 320.7,899.0 C332.9,898.7 345.1,897.4 357.3,896.6 C369.5,895.8 381.7,894.0 393.9,894.3 C406.1,894.6 424.4,897.6 430.5,898.2" stroke="#9a9a9a" stroke-width="3.2" fill="none"/>
<path d="M101.0,887.3 C107.1,887.2 125.4,886.8 137.6,887.0 C149.8,887.2 162.0,888.5 174.2,888.4 C186.4,888.3 198.6,886.9 210.8,886.5 C223.0,886.1 235.2,886.4 247.4,886.2 C259.6,886.0 271.8,885.5 284.1,885.5 C296.3,885.5 308.5,886.3 320.7,885.9 C332.9,885.5 345.1,884.0 357.3,883.0 C369.5,882.0 381.7,879.9 393.9,880.0 C406.1,880.1 424.4,882.8 430.5,883.4" stroke="#000" stroke-width="3.6" fill="none" stroke-linecap="round"/>
<path d="M101.0,881.0 C107.1,881.0 125.4,880.9 137.6,880.8 C149.8,880.7 162.0,880.8 174.2,880.6 C186.4,880.4 198.6,879.9 210.8,879.5 C223.0,879.1 235.2,878.9 247.4,878.4 C259.6,877.9 271.8,876.2 284.1,876.6 C296.3,877.0 308.5,881.3 320.7,880.6 C332.9,879.9 345.1,873.8 357.3,872.2 C369.5,870.6 381.7,870.6 393.9,870.9 C406.1,871.2 424.4,873.7 430.5,874.2" stroke="#111" stroke-width="1.8" fill="none" stroke-dasharray="4.6 2.9"/>
<path d="M101.0,865.2 C107.1,865.2 125.4,865.2 137.6,865.2 C149.8,865.2 162.0,865.2 174.2,865.2 C186.4,865.2 198.6,865.4 210.8,865.2 C223.0,865.0 235.2,865.0 247.4,863.9 C259.6,862.8 271.8,859.0 284.1,858.7 C296.3,858.5 308.5,863.0 320.7,862.4 C332.9,861.8 345.1,855.4 357.3,855.2 C369.5,855.1 381.7,858.8 393.9,861.5 C406.1,864.2 424.4,869.8 430.5,871.5" stroke="#000" stroke-width="3.6" fill="none" stroke-dasharray="11 11" stroke-linecap="round"/>
<path d="M101.0,825.9 C107.1,826.2 125.4,827.0 137.6,827.7 C149.8,828.4 162.0,829.6 174.2,830.1 C186.4,830.6 198.6,830.9 210.8,830.9 C223.0,830.9 235.2,832.3 247.4,830.1 C259.6,827.9 271.8,817.7 284.1,817.9 C296.3,818.1 308.5,830.2 320.7,831.4 C332.9,832.6 345.1,823.7 357.3,825.3 C369.5,826.9 381.7,836.0 393.9,841.1 C406.1,846.2 424.4,853.2 430.5,855.6" stroke="#1a1a1a" stroke-width="1.4" fill="none"/>
<path d="M101.0,807.3 C107.1,807.3 125.4,807.4 137.6,807.5 C149.8,807.6 162.0,807.5 174.2,807.9 C186.4,808.3 198.6,810.3 210.8,809.7 C223.0,809.1 235.2,807.3 247.4,804.5 C259.6,801.7 271.8,792.2 284.1,792.9 C296.3,793.6 308.5,808.5 320.7,808.6 C332.9,808.8 345.1,793.0 357.3,793.8 C369.5,794.6 381.7,807.3 393.9,813.3 C406.1,819.3 424.4,827.2 430.5,830.0" stroke="#111" stroke-width="2" fill="none" stroke-dasharray="8.6 6"/>
<path d="M101.0,682.8 L137.6,682.8 L174.2,682.8 L210.8,683.2 L247.4,684.0 L284.1,684.3 L320.7,684.3 L357.3,684.7 L393.9,684.7 L430.5,685.6" stroke="#e3121c" stroke-width="3.3" fill="none" stroke-linejoin="round"/>
<rect x="96.8" y="678.6" width="8.4" height="8.4" fill="#6e3272" stroke="#b8122a" stroke-width="1.8"/>
<rect x="133.4" y="678.6" width="8.4" height="8.4" fill="#6e3272" stroke="#b8122a" stroke-width="1.8"/>
<rect x="170.0" y="678.6" width="8.4" height="8.4" fill="#6e3272" stroke="#b8122a" stroke-width="1.8"/>
<rect x="206.6" y="679.0" width="8.4" height="8.4" fill="#6e3272" stroke="#b8122a" stroke-width="1.8"/>
<rect x="243.2" y="679.8" width="8.4" height="8.4" fill="#6e3272" stroke="#b8122a" stroke-width="1.8"/>
<rect x="279.9" y="680.1" width="8.4" height="8.4" fill="#6e3272" stroke="#b8122a" stroke-width="1.8"/>
<rect x="316.5" y="680.1" width="8.4" height="8.4" fill="#6e3272" stroke="#b8122a" stroke-width="1.8"/>
<rect x="353.1" y="680.5" width="8.4" height="8.4" fill="#6e3272" stroke="#b8122a" stroke-width="1.8"/>
<rect x="389.7" y="680.5" width="8.4" height="8.4" fill="#6e3272" stroke="#b8122a" stroke-width="1.8"/>
<rect x="426.3" y="681.4" width="8.4" height="8.4" fill="#6e3272" stroke="#b8122a" stroke-width="1.8"/>
<path d="M101.0,781.0 L137.6,801.0 L174.2,831.4 L210.8,837.9 L247.4,840.1 L284.1,884.9 L320.7,866.4 L357.3,875.7 L393.9,911.3 L430.5,887.9" stroke="#79b828" stroke-width="3.3" fill="none" stroke-linejoin="round"/>
<circle cx="101.0" cy="781.0" r="4.4" fill="#79b828"/>
<circle cx="137.6" cy="801.0" r="4.4" fill="#79b828"/>
<circle cx="174.2" cy="831.4" r="4.4" fill="#79b828"/>
<circle cx="210.8" cy="837.9" r="4.4" fill="#79b828"/>
<circle cx="247.4" cy="840.1" r="4.4" fill="#79b828"/>
<circle cx="284.1" cy="884.9" r="4.4" fill="#79b828"/>
<circle cx="320.7" cy="866.4" r="4.4" fill="#79b828"/>
<circle cx="357.3" cy="875.7" r="4.4" fill="#79b828"/>
<circle cx="393.9" cy="911.3" r="4.4" fill="#79b828"/>
<circle cx="430.5" cy="887.9" r="4.4" fill="#79b828"/>
<text x="226.2" y="723.9" font-family="Liberation Serif" font-size="18" text-anchor="start" fill="#111" font-weight="bold" textLength="216.1" lengthAdjust="spacingAndGlyphs">c. New residential districts</text>
<text x="175.3" y="758.7" font-family="Liberation Serif" font-size="19" text-anchor="start" fill="#000" font-weight="bold" font-style="italic" textLength="34.8" lengthAdjust="spacingAndGlyphs">OSR</text>
<line x1="192.5" y1="774.5" x2="192.5" y2="786.3" stroke="#000" stroke-width="2.6"/>
<path d="M179.8,783.3 L192.5,787.3 L205.2,783.3 L192.5,806.5 Z" fill="#000"/>
<line x1="83.4" y1="1187.6" x2="448.0" y2="1187.6" stroke="#efefef" stroke-width="1.4" stroke-dasharray="12 4"/>
<line x1="83.4" y1="1135.7" x2="448.0" y2="1135.7" stroke="#efefef" stroke-width="1.4" stroke-dasharray="12 4"/>
<line x1="83.4" y1="1083.5" x2="448.0" y2="1083.5" stroke="#efefef" stroke-width="1.4" stroke-dasharray="12 4"/>
<line x1="83.4" y1="1031.8" x2="448.0" y2="1031.8" stroke="#efefef" stroke-width="1.4" stroke-dasharray="12 4"/>
<path d="M82.4,978.9 L449.0,978.9 L449.0,1240.0" stroke="#8a8a8a" stroke-width="1.3" fill="none"/>
<line x1="82.4" y1="978.9" x2="82.4" y2="1240.0" stroke="#8a8a8a" stroke-width="1.4"/>
<line x1="78.4" y1="1240.0" x2="454.0" y2="1240.0" stroke="#8a8a8a" stroke-width="1.5"/>
<line x1="78.4" y1="1187.6" x2="82.4" y2="1187.6" stroke="#8a8a8a" stroke-width="1.2"/>
<line x1="78.4" y1="1135.7" x2="82.4" y2="1135.7" stroke="#8a8a8a" stroke-width="1.2"/>
<line x1="78.4" y1="1083.5" x2="82.4" y2="1083.5" stroke="#8a8a8a" stroke-width="1.2"/>
<line x1="78.4" y1="1031.8" x2="82.4" y2="1031.8" stroke="#8a8a8a" stroke-width="1.2"/>
<line x1="78.4" y1="978.9" x2="82.4" y2="978.9" stroke="#8a8a8a" stroke-width="1.2"/>
<line x1="101.1" y1="1240.0" x2="101.1" y2="1244.0" stroke="#8a8a8a" stroke-width="1.2"/>
<line x1="137.7" y1="1240.0" x2="137.7" y2="1244.0" stroke="#8a8a8a" stroke-width="1.2"/>
<line x1="174.3" y1="1240.0" x2="174.3" y2="1244.0" stroke="#8a8a8a" stroke-width="1.2"/>
<line x1="210.9" y1="1240.0" x2="210.9" y2="1244.0" stroke="#8a8a8a" stroke-width="1.2"/>
<line x1="247.5" y1="1240.0" x2="247.5" y2="1244.0" stroke="#8a8a8a" stroke-width="1.2"/>
<line x1="284.1" y1="1240.0" x2="284.1" y2="1244.0" stroke="#8a8a8a" stroke-width="1.2"/>
<line x1="320.7" y1="1240.0" x2="320.7" y2="1244.0" stroke="#8a8a8a" stroke-width="1.2"/>
<line x1="357.3" y1="1240.0" x2="357.3" y2="1244.0" stroke="#8a8a8a" stroke-width="1.2"/>
<line x1="393.9" y1="1240.0" x2="393.9" y2="1244.0" stroke="#8a8a8a" stroke-width="1.2"/>
<line x1="430.5" y1="1240.0" x2="430.5" y2="1244.0" stroke="#8a8a8a" stroke-width="1.2"/>
<line x1="445.0" y1="991.4" x2="454.0" y2="991.4" stroke="#8a8a8a" stroke-width="1.2"/>
<line x1="445.0" y1="1053.5" x2="454.0" y2="1053.5" stroke="#8a8a8a" stroke-width="1.2"/>
<line x1="445.0" y1="1116.2" x2="454.0" y2="1116.2" stroke="#8a8a8a" stroke-width="1.2"/>
<line x1="445.0" y1="1177.9" x2="454.0" y2="1177.9" stroke="#8a8a8a" stroke-width="1.2"/>
<text x="72.2" y="1252.8" font-family="Liberation Sans" font-size="15" text-anchor="end" fill="#1c1c1c" stroke="#1c1c1c" stroke-width="0.3" textLength="8.6" lengthAdjust="spacingAndGlyphs">0</text>
<text x="72.2" y="1198.9" font-family="Liberation Sans" font-size="15" text-anchor="end" fill="#1c1c1c" stroke="#1c1c1c" stroke-width="0.3" textLength="16.9" lengthAdjust="spacingAndGlyphs">10</text>
<text x="72.2" y="1145.1" font-family="Liberation Sans" font-size="15" text-anchor="end" fill="#1c1c1c" stroke="#1c1c1c" stroke-width="0.3" textLength="16.9" lengthAdjust="spacingAndGlyphs">20</text>
<text x="72.2" y="1091.3" font-family="Liberation Sans" font-size="15" text-anchor="end" fill="#1c1c1c" stroke="#1c1c1c" stroke-width="0.3" textLength="16.9" lengthAdjust="spacingAndGlyphs">30</text>
<text x="72.2" y="1036.5" font-family="Liberation Sans" font-size="15" text-anchor="end" fill="#1c1c1c" stroke="#1c1c1c" stroke-width="0.3" textLength="16.9" lengthAdjust="spacingAndGlyphs">40</text>
<text x="72.2" y="982.3" font-family="Liberation Sans" font-size="15" text-anchor="end" fill="#1c1c1c" stroke="#1c1c1c" stroke-width="0.3" textLength="16.9" lengthAdjust="spacingAndGlyphs">50</text>
<text x="459.3" y="1252.9" font-family="Liberation Sans" font-size="15" text-anchor="start" fill="#1c1c1c" stroke="#1c1c1c" stroke-width="0.3" textLength="8.6" lengthAdjust="spacingAndGlyphs">0</text>
<text x="459.3" y="1189.2" font-family="Liberation Sans" font-size="15" text-anchor="start" fill="#1c1c1c" stroke="#1c1c1c" stroke-width="0.3" textLength="22.2" lengthAdjust="spacingAndGlyphs">0,5</text>
<text x="459.3" y="1124.5" font-family="Liberation Sans" font-size="15" text-anchor="start" fill="#1c1c1c" stroke="#1c1c1c" stroke-width="0.3" textLength="8.6" lengthAdjust="spacingAndGlyphs">1</text>
<text x="459.3" y="1059.8" font-family="Liberation Sans" font-size="15" text-anchor="start" fill="#1c1c1c" stroke="#1c1c1c" stroke-width="0.3" textLength="22.2" lengthAdjust="spacingAndGlyphs">1,5</text>
<text x="459.3" y="995.2" font-family="Liberation Sans" font-size="15" text-anchor="start" fill="#1c1c1c" stroke="#1c1c1c" stroke-width="0.3" textLength="8.6" lengthAdjust="spacingAndGlyphs">2</text>
<text x="103.0" y="1270.1" font-family="Liberation Sans" font-size="15" text-anchor="middle" fill="#1c1c1c" stroke="#1c1c1c" stroke-width="0.3" textLength="16.9" lengthAdjust="spacingAndGlyphs">10</text>
<text x="139.2" y="1270.1" font-family="Liberation Sans" font-size="15" text-anchor="middle" fill="#1c1c1c" stroke="#1c1c1c" stroke-width="0.3" textLength="16.9" lengthAdjust="spacingAndGlyphs">20</text>
<text x="175.4" y="1270.1" font-family="Liberation Sans" font-size="15" text-anchor="middle" fill="#1c1c1c" stroke="#1c1c1c" stroke-width="0.3" textLength="16.9" lengthAdjust="spacingAndGlyphs">30</text>
<text x="211.5" y="1270.1" font-family="Liberation Sans" font-size="15" text-anchor="middle" fill="#1c1c1c" stroke="#1c1c1c" stroke-width="0.3" textLength="16.9" lengthAdjust="spacingAndGlyphs">40</text>
<text x="247.7" y="1270.1" font-family="Liberation Sans" font-size="15" text-anchor="middle" fill="#1c1c1c" stroke="#1c1c1c" stroke-width="0.3" textLength="16.9" lengthAdjust="spacingAndGlyphs">50</text>
<text x="283.9" y="1270.1" font-family="Liberation Sans" font-size="15" text-anchor="middle" fill="#1c1c1c" stroke="#1c1c1c" stroke-width="0.3" textLength="16.9" lengthAdjust="spacingAndGlyphs">60</text>
<text x="320.1" y="1270.1" font-family="Liberation Sans" font-size="15" text-anchor="middle" fill="#1c1c1c" stroke="#1c1c1c" stroke-width="0.3" textLength="16.9" lengthAdjust="spacingAndGlyphs">70</text>
<text x="356.3" y="1270.1" font-family="Liberation Sans" font-size="15" text-anchor="middle" fill="#1c1c1c" stroke="#1c1c1c" stroke-width="0.3" textLength="16.9" lengthAdjust="spacingAndGlyphs">80</text>
<text x="392.4" y="1270.1" font-family="Liberation Sans" font-size="15" text-anchor="middle" fill="#1c1c1c" stroke="#1c1c1c" stroke-width="0.3" textLength="16.9" lengthAdjust="spacingAndGlyphs">90</text>
<text x="428.6" y="1270.1" font-family="Liberation Sans" font-size="15" text-anchor="middle" fill="#1c1c1c" stroke="#1c1c1c" stroke-width="0.3" textLength="25.4" lengthAdjust="spacingAndGlyphs">100</text>
<text x="37.2" y="1112.4" transform="rotate(-90 37.2 1112.4)" font-family="Liberation Sans" font-size="14.5" text-anchor="middle" fill="#1c1c1c" stroke="#1c1c1c" stroke-width="0.3" textLength="54.8" lengthAdjust="spacingAndGlyphs">Variance</text>
<text x="496.4" y="1103.3" transform="rotate(90 496.4 1103.3)" font-family="Liberation Sans" font-size="14.5" text-anchor="middle" fill="#1c1c1c" stroke="#1c1c1c" stroke-width="0.3" textLength="111.4" lengthAdjust="spacingAndGlyphs">Fractal dimension</text>
<path d="M101.1,1222.0 C107.2,1222.0 125.5,1222.0 137.7,1222.0 C149.9,1222.0 162.1,1222.1 174.3,1222.0 C186.5,1221.9 198.7,1221.7 210.9,1221.5 C223.1,1221.3 235.3,1220.4 247.5,1220.7 C259.7,1221.0 271.9,1223.5 284.1,1223.6 C296.3,1223.6 308.5,1221.6 320.7,1221.0 C332.9,1220.4 345.1,1219.4 357.3,1220.0 C369.5,1220.6 381.7,1224.1 393.9,1224.4 C406.1,1224.7 424.4,1222.1 430.5,1221.6" stroke="#9a9a9a" stroke-width="3.2" fill="none"/>
<path d="M101.1,1207.4 C107.2,1207.4 125.5,1207.4 137.7,1207.4 C149.9,1207.4 162.1,1207.5 174.3,1207.4 C186.5,1207.3 198.7,1207.2 210.9,1207.0 C223.1,1206.8 235.3,1206.2 247.5,1206.4 C259.7,1206.6 271.9,1208.3 284.1,1208.4 C296.3,1208.5 308.5,1207.7 320.7,1207.0 C332.9,1206.3 345.1,1204.1 357.3,1204.5 C369.5,1204.9 381.7,1209.0 393.9,1209.3 C406.1,1209.5 424.4,1206.5 430.5,1206.0" stroke="#000" stroke-width="3.6" fill="none" stroke-linecap="round"/>
<path d="M101.1,1213.2 C107.2,1213.2 125.5,1213.3 137.7,1213.4 C149.9,1213.5 162.1,1213.9 174.3,1213.8 C186.5,1213.7 198.7,1213.5 210.9,1213.0 C223.1,1212.5 235.3,1210.7 247.5,1210.7 C259.7,1210.7 271.9,1212.9 284.1,1213.2 C296.3,1213.5 308.5,1213.1 320.7,1212.7 C332.9,1212.3 345.1,1209.6 357.3,1210.7 C369.5,1211.8 381.7,1218.5 393.9,1219.5 C406.1,1220.5 424.4,1217.1 430.5,1216.6" stroke="#111" stroke-width="1.8" fill="none" stroke-dasharray="4.6 2.9"/>
<path d="M101.1,1195.1 C107.2,1195.1 125.5,1194.9 137.7,1195.1 C149.9,1195.3 162.1,1196.4 174.3,1196.3 C186.5,1196.2 198.7,1195.4 210.9,1194.7 C223.1,1194.0 235.3,1192.0 247.5,1192.3 C259.7,1192.6 271.9,1194.9 284.1,1196.3 C296.3,1197.7 308.5,1200.8 320.7,1200.9 C332.9,1201.0 345.1,1197.9 357.3,1197.0 C369.5,1196.1 381.7,1194.8 393.9,1195.7 C406.1,1196.6 424.4,1201.4 430.5,1202.5" stroke="#000" stroke-width="3.6" fill="none" stroke-dasharray="11 11" stroke-linecap="round"/>
<path d="M101.1,1185.9 C107.2,1186.0 125.5,1186.2 137.7,1186.5 C149.9,1186.8 162.1,1187.1 174.3,1187.5 C186.5,1187.9 198.7,1189.8 210.9,1188.8 C223.1,1187.8 235.3,1182.4 247.5,1181.6 C259.7,1180.8 271.9,1183.0 284.1,1184.0 C296.3,1185.0 308.5,1187.5 320.7,1187.3 C332.9,1187.1 345.1,1182.3 357.3,1182.6 C369.5,1182.8 381.7,1187.4 393.9,1188.8 C406.1,1190.2 424.4,1190.5 430.5,1190.8" stroke="#1a1a1a" stroke-width="1.4" fill="none"/>
<path d="M101.1,1167.3 C107.2,1167.5 125.5,1167.8 137.7,1168.3 C149.9,1168.8 162.1,1169.6 174.3,1170.3 C186.5,1171.0 198.7,1173.7 210.9,1172.2 C223.1,1170.7 235.3,1161.9 247.5,1161.1 C259.7,1160.3 271.9,1165.7 284.1,1167.3 C296.3,1168.9 308.5,1170.9 320.7,1170.9 C332.9,1170.9 345.1,1166.6 357.3,1167.3 C369.5,1168.0 381.7,1173.7 393.9,1175.2 C406.1,1176.7 424.4,1175.9 430.5,1176.1" stroke="#111" stroke-width="2" fill="none" stroke-dasharray="8.6 6"/>
<path d="M101.1,991.9 L137.7,991.9 L174.3,991.9 L210.9,991.9 L247.5,991.9 L284.1,991.9 L320.7,991.9 L357.3,991.9 L393.9,991.9 L430.5,991.9" stroke="#e3121c" stroke-width="3.3" fill="none" stroke-linejoin="round"/>
<rect x="96.9" y="987.7" width="8.4" height="8.4" fill="#6e3272" stroke="#b8122a" stroke-width="1.8"/>
<rect x="133.5" y="987.7" width="8.4" height="8.4" fill="#6e3272" stroke="#b8122a" stroke-width="1.8"/>
<rect x="170.1" y="987.7" width="8.4" height="8.4" fill="#6e3272" stroke="#b8122a" stroke-width="1.8"/>
<rect x="206.7" y="987.7" width="8.4" height="8.4" fill="#6e3272" stroke="#b8122a" stroke-width="1.8"/>
<rect x="243.3" y="987.7" width="8.4" height="8.4" fill="#6e3272" stroke="#b8122a" stroke-width="1.8"/>
<rect x="279.9" y="987.7" width="8.4" height="8.4" fill="#6e3272" stroke="#b8122a" stroke-width="1.8"/>
<rect x="316.5" y="987.7" width="8.4" height="8.4" fill="#6e3272" stroke="#b8122a" stroke-width="1.8"/>
<rect x="353.1" y="987.7" width="8.4" height="8.4" fill="#6e3272" stroke="#b8122a" stroke-width="1.8"/>
<rect x="389.7" y="987.7" width="8.4" height="8.4" fill="#6e3272" stroke="#b8122a" stroke-width="1.8"/>
<rect x="426.3" y="987.7" width="8.4" height="8.4" fill="#6e3272" stroke="#b8122a" stroke-width="1.8"/>
<path d="M101.1,1173.2 L137.7,1192.5 L174.3,1215.2 L210.9,1227.5 L247.5,1225.9 L284.1,1225.0 L320.7,1240.0 L357.3,1240.0 L393.9,1240.0 L430.5,1240.0" stroke="#79b828" stroke-width="3.3" fill="none" stroke-linejoin="round"/>
<circle cx="101.1" cy="1173.2" r="4.4" fill="#79b828"/>
<circle cx="137.7" cy="1192.5" r="4.4" fill="#79b828"/>
<circle cx="174.3" cy="1215.2" r="4.4" fill="#79b828"/>
<circle cx="210.9" cy="1227.5" r="4.4" fill="#79b828"/>
<circle cx="247.5" cy="1225.9" r="4.4" fill="#79b828"/>
<circle cx="284.1" cy="1225.0" r="4.4" fill="#79b828"/>
<circle cx="320.7" cy="1240.0" r="4.4" fill="#79b828"/>
<circle cx="357.3" cy="1240.0" r="4.4" fill="#79b828"/>
<circle cx="393.9" cy="1240.0" r="4.4" fill="#79b828"/>
<circle cx="430.5" cy="1240.0" r="4.4" fill="#79b828"/>
<text x="230.9" y="1031.1" font-family="Liberation Serif" font-size="18" text-anchor="start" fill="#111" font-weight="bold" textLength="210.3" lengthAdjust="spacingAndGlyphs">d. Residential continuous</text>
<text x="280.6" y="1052.9" font-family="Liberation Serif" font-size="18" text-anchor="start" fill="#111" font-weight="bold" textLength="111.4" lengthAdjust="spacingAndGlyphs">dense districts</text>
<text x="118.0" y="1115.6" font-family="Liberation Serif" font-size="18" text-anchor="start" fill="#000" font-weight="bold" font-style="italic" textLength="34.9" lengthAdjust="spacingAndGlyphs">OSR</text>
<line x1="135.8" y1="1132.3" x2="135.8" y2="1144.6" stroke="#000" stroke-width="2.6"/>
<path d="M123.3,1141.6 L135.8,1145.6 L148.3,1141.6 L135.8,1163.0 Z" fill="#000"/>
<line x1="82.4" y1="1500.2" x2="446.5" y2="1500.2" stroke="#efefef" stroke-width="1.4" stroke-dasharray="12 4"/>
<line x1="82.4" y1="1449.6" x2="446.5" y2="1449.6" stroke="#efefef" stroke-width="1.4" stroke-dasharray="12 4"/>
<line x1="82.4" y1="1398.7" x2="446.5" y2="1398.7" stroke="#efefef" stroke-width="1.4" stroke-dasharray="12 4"/>
<line x1="82.4" y1="1349.2" x2="446.5" y2="1349.2" stroke="#efefef" stroke-width="1.4" stroke-dasharray="12 4"/>
<path d="M81.4,1298.7 L447.5,1298.7 L447.5,1550.0" stroke="#8a8a8a" stroke-width="1.3" fill="none"/>
<line x1="81.4" y1="1298.7" x2="81.4" y2="1550.0" stroke="#8a8a8a" stroke-width="1.4"/>
<line x1="77.4" y1="1550.0" x2="452.5" y2="1550.0" stroke="#8a8a8a" stroke-width="1.5"/>
<line x1="77.4" y1="1500.2" x2="81.4" y2="1500.2" stroke="#8a8a8a" stroke-width="1.2"/>
<line x1="77.4" y1="1449.6" x2="81.4" y2="1449.6" stroke="#8a8a8a" stroke-width="1.2"/>
<line x1="77.4" y1="1398.7" x2="81.4" y2="1398.7" stroke="#8a8a8a" stroke-width="1.2"/>
<line x1="77.4" y1="1349.2" x2="81.4" y2="1349.2" stroke="#8a8a8a" stroke-width="1.2"/>
<line x1="77.4" y1="1298.7" x2="81.4" y2="1298.7" stroke="#8a8a8a" stroke-width="1.2"/>
<line x1="99.1" y1="1550.0" x2="99.1" y2="1554.0" stroke="#8a8a8a" stroke-width="1.2"/>
<line x1="135.8" y1="1550.0" x2="135.8" y2="1554.0" stroke="#8a8a8a" stroke-width="1.2"/>
<line x1="172.5" y1="1550.0" x2="172.5" y2="1554.0" stroke="#8a8a8a" stroke-width="1.2"/>
<line x1="209.2" y1="1550.0" x2="209.2" y2="1554.0" stroke="#8a8a8a" stroke-width="1.2"/>
<line x1="245.9" y1="1550.0" x2="245.9" y2="1554.0" stroke="#8a8a8a" stroke-width="1.2"/>
<line x1="282.6" y1="1550.0" x2="282.6" y2="1554.0" stroke="#8a8a8a" stroke-width="1.2"/>
<line x1="319.3" y1="1550.0" x2="319.3" y2="1554.0" stroke="#8a8a8a" stroke-width="1.2"/>
<line x1="356.0" y1="1550.0" x2="356.0" y2="1554.0" stroke="#8a8a8a" stroke-width="1.2"/>
<line x1="392.7" y1="1550.0" x2="392.7" y2="1554.0" stroke="#8a8a8a" stroke-width="1.2"/>
<line x1="429.4" y1="1550.0" x2="429.4" y2="1554.0" stroke="#8a8a8a" stroke-width="1.2"/>
<line x1="443.5" y1="1311.1" x2="452.5" y2="1311.1" stroke="#8a8a8a" stroke-width="1.2"/>
<line x1="443.5" y1="1370.5" x2="452.5" y2="1370.5" stroke="#8a8a8a" stroke-width="1.2"/>
<line x1="443.5" y1="1430.2" x2="452.5" y2="1430.2" stroke="#8a8a8a" stroke-width="1.2"/>
<line x1="443.5" y1="1490.0" x2="452.5" y2="1490.0" stroke="#8a8a8a" stroke-width="1.2"/>
<text x="69.4" y="1556.8" font-family="Liberation Sans" font-size="15" text-anchor="end" fill="#1c1c1c" stroke="#1c1c1c" stroke-width="0.3" textLength="8.6" lengthAdjust="spacingAndGlyphs">0</text>
<text x="69.4" y="1506.3" font-family="Liberation Sans" font-size="15" text-anchor="end" fill="#1c1c1c" stroke="#1c1c1c" stroke-width="0.3" textLength="17.8" lengthAdjust="spacingAndGlyphs">10</text>
<text x="69.4" y="1456.0" font-family="Liberation Sans" font-size="15" text-anchor="end" fill="#1c1c1c" stroke="#1c1c1c" stroke-width="0.3" textLength="17.8" lengthAdjust="spacingAndGlyphs">20</text>
<text x="69.4" y="1405.0" font-family="Liberation Sans" font-size="15" text-anchor="end" fill="#1c1c1c" stroke="#1c1c1c" stroke-width="0.3" textLength="17.8" lengthAdjust="spacingAndGlyphs">30</text>
<text x="69.4" y="1354.9" font-family="Liberation Sans" font-size="15" text-anchor="end" fill="#1c1c1c" stroke="#1c1c1c" stroke-width="0.3" textLength="17.8" lengthAdjust="spacingAndGlyphs">40</text>
<text x="69.4" y="1303.9" font-family="Liberation Sans" font-size="15" text-anchor="end" fill="#1c1c1c" stroke="#1c1c1c" stroke-width="0.3" textLength="17.8" lengthAdjust="spacingAndGlyphs">50</text>
<text x="455.5" y="1556.9" font-family="Liberation Sans" font-size="15" text-anchor="start" fill="#1c1c1c" stroke="#1c1c1c" stroke-width="0.3" textLength="8.6" lengthAdjust="spacingAndGlyphs">0</text>
<text x="455.5" y="1496.6" font-family="Liberation Sans" font-size="15" text-anchor="start" fill="#1c1c1c" stroke="#1c1c1c" stroke-width="0.3" textLength="22.2" lengthAdjust="spacingAndGlyphs">0,5</text>
<text x="455.5" y="1436.5" font-family="Liberation Sans" font-size="15" text-anchor="start" fill="#1c1c1c" stroke="#1c1c1c" stroke-width="0.3" textLength="8.6" lengthAdjust="spacingAndGlyphs">1</text>
<text x="455.5" y="1375.8" font-family="Liberation Sans" font-size="15" text-anchor="start" fill="#1c1c1c" stroke="#1c1c1c" stroke-width="0.3" textLength="22.2" lengthAdjust="spacingAndGlyphs">1,5</text>
<text x="455.5" y="1316.1" font-family="Liberation Sans" font-size="15" text-anchor="start" fill="#1c1c1c" stroke="#1c1c1c" stroke-width="0.3" textLength="8.6" lengthAdjust="spacingAndGlyphs">2</text>
<text x="99.5" y="1572.3" font-family="Liberation Sans" font-size="15" text-anchor="middle" fill="#1c1c1c" stroke="#1c1c1c" stroke-width="0.3" textLength="16.9" lengthAdjust="spacingAndGlyphs">10</text>
<text x="135.8" y="1572.3" font-family="Liberation Sans" font-size="15" text-anchor="middle" fill="#1c1c1c" stroke="#1c1c1c" stroke-width="0.3" textLength="16.9" lengthAdjust="spacingAndGlyphs">20</text>
<text x="172.1" y="1572.3" font-family="Liberation Sans" font-size="15" text-anchor="middle" fill="#1c1c1c" stroke="#1c1c1c" stroke-width="0.3" textLength="16.9" lengthAdjust="spacingAndGlyphs">30</text>
<text x="208.4" y="1572.3" font-family="Liberation Sans" font-size="15" text-anchor="middle" fill="#1c1c1c" stroke="#1c1c1c" stroke-width="0.3" textLength="16.9" lengthAdjust="spacingAndGlyphs">40</text>
<text x="244.7" y="1572.3" font-family="Liberation Sans" font-size="15" text-anchor="middle" fill="#1c1c1c" stroke="#1c1c1c" stroke-width="0.3" textLength="16.9" lengthAdjust="spacingAndGlyphs">50</text>
<text x="281.0" y="1572.3" font-family="Liberation Sans" font-size="15" text-anchor="middle" fill="#1c1c1c" stroke="#1c1c1c" stroke-width="0.3" textLength="16.9" lengthAdjust="spacingAndGlyphs">60</text>
<text x="317.3" y="1572.3" font-family="Liberation Sans" font-size="15" text-anchor="middle" fill="#1c1c1c" stroke="#1c1c1c" stroke-width="0.3" textLength="16.9" lengthAdjust="spacingAndGlyphs">70</text>
<text x="353.6" y="1572.3" font-family="Liberation Sans" font-size="15" text-anchor="middle" fill="#1c1c1c" stroke="#1c1c1c" stroke-width="0.3" textLength="16.9" lengthAdjust="spacingAndGlyphs">80</text>
<text x="389.9" y="1572.3" font-family="Liberation Sans" font-size="15" text-anchor="middle" fill="#1c1c1c" stroke="#1c1c1c" stroke-width="0.3" textLength="16.9" lengthAdjust="spacingAndGlyphs">90</text>
<text x="426.2" y="1572.3" font-family="Liberation Sans" font-size="15" text-anchor="middle" fill="#1c1c1c" stroke="#1c1c1c" stroke-width="0.3" textLength="25.4" lengthAdjust="spacingAndGlyphs">100</text>
<text x="33.2" y="1425.2" transform="rotate(-90 33.2 1425.2)" font-family="Liberation Sans" font-size="14.5" text-anchor="middle" fill="#1c1c1c" stroke="#1c1c1c" stroke-width="0.3" textLength="52.9" lengthAdjust="spacingAndGlyphs">Variance</text>
<text x="492.8" y="1416.8" transform="rotate(90 492.8 1416.8)" font-family="Liberation Sans" font-size="14.5" text-anchor="middle" fill="#1c1c1c" stroke="#1c1c1c" stroke-width="0.3" textLength="104.5" lengthAdjust="spacingAndGlyphs">Fractal dimension</text>
<path d="M99.1,1530.2 C105.2,1530.2 123.6,1530.1 135.8,1530.1 C148.0,1530.1 160.3,1530.0 172.5,1530.0 C184.7,1530.0 197.0,1530.0 209.2,1530.0 C221.4,1530.0 233.7,1530.0 245.9,1529.8 C258.1,1529.6 270.4,1528.5 282.6,1528.6 C294.8,1528.7 307.1,1530.1 319.3,1530.2 C331.5,1530.3 343.8,1529.8 356.0,1529.0 C368.2,1528.2 380.5,1525.7 392.7,1525.5 C404.9,1525.3 423.3,1527.5 429.4,1527.9" stroke="#9a9a9a" stroke-width="3.2" fill="none"/>
<path d="M99.1,1518.1 C105.2,1518.1 123.6,1518.1 135.8,1518.1 C148.0,1518.1 160.3,1517.9 172.5,1518.1 C184.7,1518.3 197.0,1518.9 209.2,1519.1 C221.4,1519.3 233.7,1520.0 245.9,1519.5 C258.1,1519.0 270.4,1517.0 282.6,1516.2 C294.8,1515.5 307.1,1514.6 319.3,1515.0 C331.5,1515.4 343.8,1518.5 356.0,1518.5 C368.2,1518.5 380.5,1515.0 392.7,1515.0 C404.9,1515.0 423.3,1517.9 429.4,1518.5" stroke="#000" stroke-width="3.6" fill="none" stroke-linecap="round"/>
<path d="M99.1,1514.2 C105.2,1514.2 123.6,1514.2 135.8,1514.2 C148.0,1514.2 160.3,1514.2 172.5,1514.2 C184.7,1514.2 197.0,1514.1 209.2,1514.0 C221.4,1513.9 233.7,1513.9 245.9,1513.8 C258.1,1513.7 270.4,1513.4 282.6,1513.5 C294.8,1513.6 307.1,1514.2 319.3,1514.5 C331.5,1514.8 343.8,1515.9 356.0,1515.0 C368.2,1514.1 380.5,1509.8 392.7,1509.1 C404.9,1508.4 423.3,1510.5 429.4,1510.8" stroke="#111" stroke-width="1.8" fill="none" stroke-dasharray="4.6 2.9"/>
<path d="M99.1,1502.5 C105.2,1502.5 123.6,1502.4 135.8,1502.3 C148.0,1502.2 160.3,1502.1 172.5,1502.0 C184.7,1501.9 197.0,1501.7 209.2,1501.5 C221.4,1501.3 233.7,1500.9 245.9,1501.0 C258.1,1501.1 270.4,1501.6 282.6,1502.1 C294.8,1502.5 307.1,1503.5 319.3,1503.7 C331.5,1503.9 343.8,1504.7 356.0,1503.3 C368.2,1501.9 380.5,1495.9 392.7,1495.1 C404.9,1494.3 423.3,1498.0 429.4,1498.6" stroke="#000" stroke-width="3.6" fill="none" stroke-dasharray="11 11" stroke-linecap="round"/>
<path d="M99.1,1482.6 C105.2,1482.7 123.6,1483.8 135.8,1483.4 C148.0,1483.0 160.3,1481.3 172.5,1480.0 C184.7,1478.7 197.0,1476.4 209.2,1475.7 C221.4,1475.0 233.7,1475.6 245.9,1476.0 C258.1,1476.4 270.4,1477.5 282.6,1478.3 C294.8,1479.1 307.1,1479.7 319.3,1480.6 C331.5,1481.5 343.8,1483.6 356.0,1483.8 C368.2,1484.0 380.5,1480.8 392.7,1481.7 C404.9,1482.6 423.3,1487.8 429.4,1489.0" stroke="#1a1a1a" stroke-width="1.4" fill="none"/>
<path d="M99.1,1472.2 C105.2,1472.4 123.6,1473.5 135.8,1473.2 C148.0,1472.9 160.3,1471.7 172.5,1470.3 C184.7,1468.9 197.0,1465.5 209.2,1465.0 C221.4,1464.5 233.7,1466.3 245.9,1467.5 C258.1,1468.7 270.4,1471.0 282.6,1472.4 C294.8,1473.8 307.1,1476.5 319.3,1475.8 C331.5,1475.1 343.8,1470.0 356.0,1468.4 C368.2,1466.8 380.5,1466.0 392.7,1466.4 C404.9,1466.8 423.3,1469.9 429.4,1470.6" stroke="#111" stroke-width="2" fill="none" stroke-dasharray="8.6 6"/>
<path d="M99.1,1334.2 L135.8,1339.0 L172.5,1342.2 L209.2,1342.5 L245.9,1347.5 L282.6,1348.6 L319.3,1361.9 L356.0,1350.5 L392.7,1352.5 L429.4,1366.2" stroke="#e3121c" stroke-width="3.3" fill="none" stroke-linejoin="round"/>
<rect x="94.9" y="1330.0" width="8.4" height="8.4" fill="#6e3272" stroke="#b8122a" stroke-width="1.8"/>
<rect x="131.6" y="1334.8" width="8.4" height="8.4" fill="#6e3272" stroke="#b8122a" stroke-width="1.8"/>
<rect x="168.3" y="1338.0" width="8.4" height="8.4" fill="#6e3272" stroke="#b8122a" stroke-width="1.8"/>
<rect x="205.0" y="1338.3" width="8.4" height="8.4" fill="#6e3272" stroke="#b8122a" stroke-width="1.8"/>
<rect x="241.7" y="1343.3" width="8.4" height="8.4" fill="#6e3272" stroke="#b8122a" stroke-width="1.8"/>
<rect x="278.4" y="1344.4" width="8.4" height="8.4" fill="#6e3272" stroke="#b8122a" stroke-width="1.8"/>
<rect x="315.1" y="1357.7" width="8.4" height="8.4" fill="#6e3272" stroke="#b8122a" stroke-width="1.8"/>
<rect x="351.8" y="1346.3" width="8.4" height="8.4" fill="#6e3272" stroke="#b8122a" stroke-width="1.8"/>
<rect x="388.5" y="1348.3" width="8.4" height="8.4" fill="#6e3272" stroke="#b8122a" stroke-width="1.8"/>
<rect x="425.2" y="1362.0" width="8.4" height="8.4" fill="#6e3272" stroke="#b8122a" stroke-width="1.8"/>
<path d="M99.1,1326.0 L135.8,1329.7 L172.5,1332.5 L209.2,1337.5 L245.9,1337.8 L282.6,1341.8 L319.3,1341.2 L356.0,1350.9 L392.7,1351.5 L429.4,1343.7" stroke="#79b828" stroke-width="3.3" fill="none" stroke-linejoin="round"/>
<circle cx="99.1" cy="1326.0" r="4.4" fill="#79b828"/>
<circle cx="135.8" cy="1329.7" r="4.4" fill="#79b828"/>
<circle cx="172.5" cy="1332.5" r="4.4" fill="#79b828"/>
<circle cx="209.2" cy="1337.5" r="4.4" fill="#79b828"/>
<circle cx="245.9" cy="1337.8" r="4.4" fill="#79b828"/>
<circle cx="282.6" cy="1341.8" r="4.4" fill="#79b828"/>
<circle cx="319.3" cy="1341.2" r="4.4" fill="#79b828"/>
<circle cx="356.0" cy="1350.9" r="4.4" fill="#79b828"/>
<circle cx="392.7" cy="1351.5" r="4.4" fill="#79b828"/>
<circle cx="429.4" cy="1343.7" r="4.4" fill="#79b828"/>
<text x="207.3" y="1400.8" font-family="Liberation Serif" font-size="18" text-anchor="start" fill="#111" font-weight="bold" textLength="231.5" lengthAdjust="spacingAndGlyphs">e. Residential discontinuous</text>
<text x="291.6" y="1423.5" font-family="Liberation Serif" font-size="18" text-anchor="start" fill="#111" font-weight="bold" textLength="63.4" lengthAdjust="spacingAndGlyphs">districts</text>
<text x="147.7" y="1421.0" font-family="Liberation Serif" font-size="18" text-anchor="start" fill="#000" font-weight="bold" font-style="italic" textLength="34.5" lengthAdjust="spacingAndGlyphs">OSR</text>
<line x1="164.4" y1="1437.7" x2="164.4" y2="1450.0" stroke="#000" stroke-width="2.6"/>
<path d="M151.9,1447.0 L164.4,1451.0 L176.9,1447.0 L164.4,1469.3 Z" fill="#000"/>
<line x1="706.6" y1="1134.8" x2="983.0" y2="1134.8" stroke="#e6e6e6" stroke-width="1.3" stroke-dasharray="11 4"/>
<line x1="706.6" y1="1082.5" x2="983.0" y2="1082.5" stroke="#e6e6e6" stroke-width="1.3" stroke-dasharray="11 4"/>
<line x1="706.6" y1="1030.9" x2="983.0" y2="1030.9" stroke="#e6e6e6" stroke-width="1.3" stroke-dasharray="11 4"/>
<rect x="705.6" y="978.0" width="278.4" height="208.6" fill="none" stroke="#8a8a8a" stroke-width="1.2"/>
<line x1="701.6" y1="1186.6" x2="984.0" y2="1186.6" stroke="#8a8a8a" stroke-width="1.4"/>
<line x1="701.6" y1="1134.8" x2="705.6" y2="1134.8" stroke="#8a8a8a" stroke-width="1"/>
<line x1="701.6" y1="1082.5" x2="705.6" y2="1082.5" stroke="#8a8a8a" stroke-width="1"/>
<line x1="701.6" y1="1030.9" x2="705.6" y2="1030.9" stroke="#8a8a8a" stroke-width="1"/>
<line x1="701.6" y1="978.0" x2="705.6" y2="978.0" stroke="#8a8a8a" stroke-width="1"/>
<line x1="720.2" y1="1186.6" x2="720.2" y2="1183.6" stroke="#8a8a8a" stroke-width="1"/>
<line x1="748.0" y1="1186.6" x2="748.0" y2="1183.6" stroke="#8a8a8a" stroke-width="1"/>
<line x1="775.8" y1="1186.6" x2="775.8" y2="1183.6" stroke="#8a8a8a" stroke-width="1"/>
<line x1="803.6" y1="1186.6" x2="803.6" y2="1183.6" stroke="#8a8a8a" stroke-width="1"/>
<line x1="831.4" y1="1186.6" x2="831.4" y2="1183.6" stroke="#8a8a8a" stroke-width="1"/>
<line x1="859.2" y1="1186.6" x2="859.2" y2="1183.6" stroke="#8a8a8a" stroke-width="1"/>
<line x1="887.0" y1="1186.6" x2="887.0" y2="1183.6" stroke="#8a8a8a" stroke-width="1"/>
<line x1="914.8" y1="1186.6" x2="914.8" y2="1183.6" stroke="#8a8a8a" stroke-width="1"/>
<line x1="942.6" y1="1186.6" x2="942.6" y2="1183.6" stroke="#8a8a8a" stroke-width="1"/>
<line x1="970.4" y1="1186.6" x2="970.4" y2="1183.6" stroke="#8a8a8a" stroke-width="1"/>
<text x="696.9" y="1190.5" font-family="Liberation Sans" font-size="10.5" text-anchor="end" fill="#222" stroke="#222" stroke-width="0.3" textLength="6.2" lengthAdjust="spacingAndGlyphs">0</text>
<text x="696.9" y="1138.6" font-family="Liberation Sans" font-size="10.5" text-anchor="end" fill="#222" stroke="#222" stroke-width="0.3" textLength="6.2" lengthAdjust="spacingAndGlyphs">5</text>
<text x="696.9" y="1086.6" font-family="Liberation Sans" font-size="10.5" text-anchor="end" fill="#222" stroke="#222" stroke-width="0.3" textLength="12.4" lengthAdjust="spacingAndGlyphs">10</text>
<text x="696.9" y="1034.7" font-family="Liberation Sans" font-size="10.5" text-anchor="end" fill="#222" stroke="#222" stroke-width="0.3" textLength="12.4" lengthAdjust="spacingAndGlyphs">15</text>
<text x="696.9" y="982.2" font-family="Liberation Sans" font-size="10.5" text-anchor="end" fill="#222" stroke="#222" stroke-width="0.3" textLength="12.4" lengthAdjust="spacingAndGlyphs">20</text>
<text x="720.3" y="1200.7" font-family="Liberation Sans" font-size="10.5" text-anchor="middle" fill="#222" stroke="#222" stroke-width="0.3" textLength="12.4" lengthAdjust="spacingAndGlyphs">10</text>
<text x="747.8" y="1203.5" font-family="Liberation Sans" font-size="10.5" text-anchor="middle" fill="#222" stroke="#222" stroke-width="0.3" textLength="12.4" lengthAdjust="spacingAndGlyphs">20</text>
<text x="775.6" y="1203.5" font-family="Liberation Sans" font-size="10.5" text-anchor="middle" fill="#222" stroke="#222" stroke-width="0.3" textLength="12.4" lengthAdjust="spacingAndGlyphs">30</text>
<text x="803.4" y="1200.7" font-family="Liberation Sans" font-size="10.5" text-anchor="middle" fill="#222" stroke="#222" stroke-width="0.3" textLength="12.4" lengthAdjust="spacingAndGlyphs">40</text>
<text x="831.3" y="1200.7" font-family="Liberation Sans" font-size="10.5" text-anchor="middle" fill="#222" stroke="#222" stroke-width="0.3" textLength="12.4" lengthAdjust="spacingAndGlyphs">50</text>
<text x="859.0" y="1200.7" font-family="Liberation Sans" font-size="10.5" text-anchor="middle" fill="#222" stroke="#222" stroke-width="0.3" textLength="12.4" lengthAdjust="spacingAndGlyphs">60</text>
<text x="886.8" y="1200.7" font-family="Liberation Sans" font-size="10.5" text-anchor="middle" fill="#222" stroke="#222" stroke-width="0.3" textLength="12.4" lengthAdjust="spacingAndGlyphs">70</text>
<text x="914.6" y="1200.7" font-family="Liberation Sans" font-size="10.5" text-anchor="middle" fill="#222" stroke="#222" stroke-width="0.3" textLength="12.4" lengthAdjust="spacingAndGlyphs">80</text>
<text x="942.4" y="1200.7" font-family="Liberation Sans" font-size="10.5" text-anchor="middle" fill="#222" stroke="#222" stroke-width="0.3" textLength="12.4" lengthAdjust="spacingAndGlyphs">90</text>
<text x="970.3" y="1203.5" font-family="Liberation Sans" font-size="10.5" text-anchor="middle" fill="#222" stroke="#222" stroke-width="0.3" textLength="18.6" lengthAdjust="spacingAndGlyphs">100</text>
<text x="812.4" y="1224.5" font-family="Liberation Sans" font-size="10.5" text-anchor="start" fill="#222" stroke="#222" stroke-width="0.3" textLength="71.6" lengthAdjust="spacingAndGlyphs">Resolution (m)</text>
<text x="668.6" y="1086.5" transform="rotate(-90 668.6 1086.5)" font-family="Liberation Sans" font-size="10.5" text-anchor="middle" fill="#333" textLength="41.0" lengthAdjust="spacingAndGlyphs">Variance</text>
<path d="M720.2,1144.6 C724.8,1144.6 738.7,1144.6 748.0,1144.6 C757.3,1144.6 766.5,1144.8 775.8,1144.6 C785.1,1144.4 794.3,1143.5 803.6,1143.2 C812.9,1142.9 822.1,1141.9 831.4,1142.5 C840.7,1143.1 849.9,1146.9 859.2,1147.0 C868.5,1147.1 877.7,1144.0 887.0,1143.0 C896.3,1142.0 905.5,1140.1 914.8,1141.2 C924.1,1142.3 933.3,1149.1 942.6,1149.6 C951.9,1150.1 965.8,1145.2 970.4,1144.3" stroke="#9a9a9a" stroke-width="3.2" fill="none"/>
<path d="M720.2,1113.3 C724.8,1113.3 738.7,1113.3 748.0,1113.3 C757.3,1113.3 766.5,1113.8 775.8,1113.3 C785.1,1112.8 794.3,1110.8 803.6,1110.6 C812.9,1110.4 822.1,1111.4 831.4,1112.0 C840.7,1112.6 849.9,1114.5 859.2,1114.4 C868.5,1114.3 877.7,1112.6 887.0,1111.4 C896.3,1110.2 905.5,1106.5 914.8,1107.3 C924.1,1108.1 933.3,1115.9 942.6,1116.3 C951.9,1116.7 965.8,1110.8 970.4,1109.7" stroke="#000" stroke-width="3.6" fill="none" stroke-linecap="round"/>
<path d="M720.2,1124.8 C724.8,1124.9 738.7,1125.3 748.0,1125.5 C757.3,1125.7 766.5,1126.3 775.8,1126.2 C785.1,1126.1 794.3,1125.8 803.6,1124.8 C812.9,1123.8 822.1,1120.0 831.4,1120.3 C840.7,1120.6 849.9,1126.0 859.2,1126.6 C868.5,1127.2 877.7,1124.8 887.0,1123.8 C896.3,1122.8 905.5,1117.8 914.8,1120.3 C924.1,1122.8 933.3,1136.5 942.6,1138.7 C951.9,1140.9 965.8,1134.5 970.4,1133.7" stroke="#111" stroke-width="1.8" fill="none" stroke-dasharray="4.6 2.9"/>
<path d="M720.2,1096.7 C724.8,1096.8 738.7,1096.5 748.0,1097.0 C757.3,1097.5 766.5,1100.1 775.8,1099.5 C785.1,1098.9 794.3,1094.8 803.6,1093.5 C812.9,1092.2 822.1,1090.9 831.4,1092.0 C840.7,1093.1 849.9,1097.0 859.2,1100.0 C868.5,1103.0 877.7,1109.7 887.0,1109.7 C896.3,1109.7 905.5,1102.0 914.8,1100.1 C924.1,1098.2 933.3,1096.7 942.6,1098.5 C951.9,1100.3 965.8,1109.1 970.4,1111.2" stroke="#000" stroke-width="3.6" fill="none" stroke-dasharray="11 11" stroke-linecap="round"/>
<path d="M720.2,1077.8 C724.8,1078.2 738.7,1079.4 748.0,1080.0 C757.3,1080.6 766.5,1080.8 775.8,1081.6 C785.1,1082.4 794.3,1086.6 803.6,1084.7 C812.9,1082.8 822.1,1071.8 831.4,1070.2 C840.7,1068.6 849.9,1073.1 859.2,1075.0 C868.5,1076.9 877.7,1081.9 887.0,1081.6 C896.3,1081.2 905.5,1072.6 914.8,1072.9 C924.1,1073.2 933.3,1081.1 942.6,1083.7 C951.9,1086.3 965.8,1087.5 970.4,1088.3" stroke="#1a1a1a" stroke-width="1.4" fill="none"/>
<path d="M720.2,1041.2 C724.8,1041.6 738.7,1042.9 748.0,1043.8 C757.3,1044.7 766.5,1045.5 775.8,1046.8 C785.1,1048.1 794.3,1054.5 803.6,1051.7 C812.9,1048.9 822.1,1030.8 831.4,1029.8 C840.7,1028.8 849.9,1042.8 859.2,1046.0 C868.5,1049.2 877.7,1049.3 887.0,1048.7 C896.3,1048.1 905.5,1041.1 914.8,1042.3 C924.1,1043.5 933.3,1052.9 942.6,1055.8 C951.9,1058.7 965.8,1058.9 970.4,1059.5" stroke="#111" stroke-width="2" fill="none" stroke-dasharray="8.6 6"/>
<text x="739.4" y="994.7" font-family="Liberation Serif" font-size="15" text-anchor="start" fill="#000" font-weight="bold" font-style="italic" textLength="34.3" lengthAdjust="spacingAndGlyphs">OSR</text>
<line x1="756.7" y1="1003.0" x2="756.7" y2="1014.4" stroke="#000" stroke-width="2.6"/>
<path d="M744.4,1011.4 L756.7,1015.4 L769.0,1011.4 L756.7,1034.6 Z" fill="#000"/>
<line x1="705.6" y1="1447.3" x2="980.0" y2="1447.3" stroke="#e6e6e6" stroke-width="1.3" stroke-dasharray="11 4"/>
<line x1="705.6" y1="1394.1" x2="980.0" y2="1394.1" stroke="#e6e6e6" stroke-width="1.3" stroke-dasharray="11 4"/>
<line x1="705.6" y1="1341.8" x2="980.0" y2="1341.8" stroke="#e6e6e6" stroke-width="1.3" stroke-dasharray="11 4"/>
<rect x="704.6" y="1288.8" width="276.4" height="211.6" fill="none" stroke="#8a8a8a" stroke-width="1.2"/>
<line x1="700.6" y1="1500.4" x2="981.0" y2="1500.4" stroke="#8a8a8a" stroke-width="1.4"/>
<line x1="700.6" y1="1447.3" x2="704.6" y2="1447.3" stroke="#8a8a8a" stroke-width="1"/>
<line x1="700.6" y1="1394.1" x2="704.6" y2="1394.1" stroke="#8a8a8a" stroke-width="1"/>
<line x1="700.6" y1="1341.8" x2="704.6" y2="1341.8" stroke="#8a8a8a" stroke-width="1"/>
<line x1="700.6" y1="1288.8" x2="704.6" y2="1288.8" stroke="#8a8a8a" stroke-width="1"/>
<line x1="718.5" y1="1500.4" x2="718.5" y2="1497.4" stroke="#8a8a8a" stroke-width="1"/>
<line x1="746.1" y1="1500.4" x2="746.1" y2="1497.4" stroke="#8a8a8a" stroke-width="1"/>
<line x1="773.7" y1="1500.4" x2="773.7" y2="1497.4" stroke="#8a8a8a" stroke-width="1"/>
<line x1="801.3" y1="1500.4" x2="801.3" y2="1497.4" stroke="#8a8a8a" stroke-width="1"/>
<line x1="828.9" y1="1500.4" x2="828.9" y2="1497.4" stroke="#8a8a8a" stroke-width="1"/>
<line x1="856.5" y1="1500.4" x2="856.5" y2="1497.4" stroke="#8a8a8a" stroke-width="1"/>
<line x1="884.1" y1="1500.4" x2="884.1" y2="1497.4" stroke="#8a8a8a" stroke-width="1"/>
<line x1="911.7" y1="1500.4" x2="911.7" y2="1497.4" stroke="#8a8a8a" stroke-width="1"/>
<line x1="939.3" y1="1500.4" x2="939.3" y2="1497.4" stroke="#8a8a8a" stroke-width="1"/>
<line x1="966.9" y1="1500.4" x2="966.9" y2="1497.4" stroke="#8a8a8a" stroke-width="1"/>
<text x="695.1" y="1504.2" font-family="Liberation Sans" font-size="10.5" text-anchor="end" fill="#222" stroke="#222" stroke-width="0.3" textLength="6.2" lengthAdjust="spacingAndGlyphs">0</text>
<text x="695.1" y="1451.1" font-family="Liberation Sans" font-size="10.5" text-anchor="end" fill="#222" stroke="#222" stroke-width="0.3" textLength="6.2" lengthAdjust="spacingAndGlyphs">5</text>
<text x="695.1" y="1397.9" font-family="Liberation Sans" font-size="10.5" text-anchor="end" fill="#222" stroke="#222" stroke-width="0.3" textLength="12.4" lengthAdjust="spacingAndGlyphs">10</text>
<text x="695.1" y="1345.6" font-family="Liberation Sans" font-size="10.5" text-anchor="end" fill="#222" stroke="#222" stroke-width="0.3" textLength="12.4" lengthAdjust="spacingAndGlyphs">15</text>
<text x="695.1" y="1292.7" font-family="Liberation Sans" font-size="10.5" text-anchor="end" fill="#222" stroke="#222" stroke-width="0.3" textLength="12.4" lengthAdjust="spacingAndGlyphs">20</text>
<text x="718.5" y="1516.6" font-family="Liberation Sans" font-size="10.5" text-anchor="middle" fill="#222" stroke="#222" stroke-width="0.3" textLength="12.4" lengthAdjust="spacingAndGlyphs">10</text>
<text x="745.9" y="1516.6" font-family="Liberation Sans" font-size="10.5" text-anchor="middle" fill="#222" stroke="#222" stroke-width="0.3" textLength="12.4" lengthAdjust="spacingAndGlyphs">20</text>
<text x="773.4" y="1516.6" font-family="Liberation Sans" font-size="10.5" text-anchor="middle" fill="#222" stroke="#222" stroke-width="0.3" textLength="12.4" lengthAdjust="spacingAndGlyphs">30</text>
<text x="801.2" y="1516.6" font-family="Liberation Sans" font-size="10.5" text-anchor="middle" fill="#222" stroke="#222" stroke-width="0.3" textLength="12.4" lengthAdjust="spacingAndGlyphs">40</text>
<text x="828.5" y="1516.6" font-family="Liberation Sans" font-size="10.5" text-anchor="middle" fill="#222" stroke="#222" stroke-width="0.3" textLength="12.4" lengthAdjust="spacingAndGlyphs">50</text>
<text x="856.2" y="1516.6" font-family="Liberation Sans" font-size="10.5" text-anchor="middle" fill="#222" stroke="#222" stroke-width="0.3" textLength="12.4" lengthAdjust="spacingAndGlyphs">60</text>
<text x="884.0" y="1516.6" font-family="Liberation Sans" font-size="10.5" text-anchor="middle" fill="#222" stroke="#222" stroke-width="0.3" textLength="12.4" lengthAdjust="spacingAndGlyphs">70</text>
<text x="911.3" y="1516.6" font-family="Liberation Sans" font-size="10.5" text-anchor="middle" fill="#222" stroke="#222" stroke-width="0.3" textLength="12.4" lengthAdjust="spacingAndGlyphs">80</text>
<text x="939.1" y="1516.6" font-family="Liberation Sans" font-size="10.5" text-anchor="middle" fill="#222" stroke="#222" stroke-width="0.3" textLength="12.4" lengthAdjust="spacingAndGlyphs">90</text>
<text x="966.9" y="1516.6" font-family="Liberation Sans" font-size="10.5" text-anchor="middle" fill="#222" stroke="#222" stroke-width="0.3" textLength="18.6" lengthAdjust="spacingAndGlyphs">100</text>
<text x="809.8" y="1533.4" font-family="Liberation Sans" font-size="10.5" text-anchor="start" fill="#222" stroke="#222" stroke-width="0.3" textLength="71.4" lengthAdjust="spacingAndGlyphs">Resolution (m)</text>
<text x="665.3" y="1376.5" transform="rotate(-90 665.3 1376.5)" font-family="Liberation Sans" font-size="10.5" text-anchor="middle" fill="#333" textLength="41.0" lengthAdjust="spacingAndGlyphs">Variance</text>
<path d="M718.5,1458.2 C723.1,1458.2 736.9,1458.3 746.1,1458.2 C755.3,1458.1 764.5,1457.8 773.7,1457.8 C782.9,1457.8 792.1,1457.9 801.3,1458.0 C810.5,1458.1 819.7,1458.7 828.9,1458.3 C838.1,1457.9 847.3,1455.8 856.5,1455.8 C865.7,1455.8 874.9,1458.2 884.1,1458.3 C893.3,1458.4 902.5,1457.8 911.7,1456.3 C920.9,1454.8 930.1,1449.6 939.3,1449.0 C948.5,1448.4 962.3,1452.2 966.9,1452.9" stroke="#9a9a9a" stroke-width="3.2" fill="none"/>
<path d="M718.5,1432.4 C723.1,1432.4 736.9,1432.7 746.1,1432.4 C755.3,1432.1 764.5,1430.6 773.7,1430.6 C782.9,1430.6 792.1,1431.8 801.3,1432.5 C810.5,1433.2 819.7,1435.5 828.9,1434.8 C838.1,1434.1 847.3,1429.7 856.5,1428.2 C865.7,1426.7 874.9,1424.8 884.1,1425.6 C893.3,1426.4 902.5,1433.0 911.7,1433.2 C920.9,1433.4 930.1,1426.5 939.3,1426.6 C948.5,1426.7 962.3,1432.6 966.9,1433.8" stroke="#000" stroke-width="3.6" fill="none" stroke-linecap="round"/>
<path d="M718.5,1424.4 C723.1,1424.4 736.9,1424.4 746.1,1424.4 C755.3,1424.4 764.5,1424.5 773.7,1424.4 C782.9,1424.3 792.1,1424.1 801.3,1424.0 C810.5,1423.9 819.7,1424.2 828.9,1423.8 C838.1,1423.4 847.3,1421.6 856.5,1421.5 C865.7,1421.4 874.9,1422.2 884.1,1423.0 C893.3,1423.8 902.5,1427.7 911.7,1426.0 C920.9,1424.3 930.1,1414.5 939.3,1413.0 C948.5,1411.5 962.3,1416.5 966.9,1417.2" stroke="#111" stroke-width="1.8" fill="none" stroke-dasharray="4.6 2.9"/>
<path d="M718.5,1399.5 C723.1,1399.5 736.9,1399.8 746.1,1399.5 C755.3,1399.2 764.5,1398.5 773.7,1398.0 C782.9,1397.5 792.1,1396.9 801.3,1396.5 C810.5,1396.1 819.7,1395.2 828.9,1395.4 C838.1,1395.7 847.3,1397.0 856.5,1398.0 C865.7,1399.0 874.9,1401.0 884.1,1401.5 C893.3,1402.0 904.8,1402.8 911.7,1401.0 C918.6,1399.2 920.9,1393.9 925.5,1391.0 C930.1,1388.1 932.4,1383.2 939.3,1383.5 C946.2,1383.8 962.3,1391.2 966.9,1392.8" stroke="#000" stroke-width="3.6" fill="none" stroke-dasharray="11 11" stroke-linecap="round"/>
<path d="M718.5,1358.0 C723.1,1358.2 736.9,1359.9 746.1,1359.1 C755.3,1358.3 764.5,1355.8 773.7,1353.2 C782.9,1350.6 792.1,1344.7 801.3,1343.3 C810.5,1341.9 819.7,1344.0 828.9,1344.8 C838.1,1345.6 847.3,1346.4 856.5,1348.0 C865.7,1349.6 874.9,1352.4 884.1,1354.5 C893.3,1356.6 902.5,1360.3 911.7,1360.7 C920.9,1361.1 930.1,1355.0 939.3,1356.8 C948.5,1358.6 962.3,1369.3 966.9,1371.8" stroke="#1a1a1a" stroke-width="1.4" fill="none"/>
<path d="M718.5,1336.6 C723.1,1336.9 736.9,1339.6 746.1,1338.7 C755.3,1337.8 764.5,1334.1 773.7,1331.2 C782.9,1328.3 792.1,1322.4 801.3,1321.5 C810.5,1320.6 819.7,1323.5 828.9,1325.8 C838.1,1328.1 847.3,1332.3 856.5,1335.3 C865.7,1338.2 874.9,1344.5 884.1,1343.5 C893.3,1342.5 902.5,1332.2 911.7,1329.0 C920.9,1325.8 930.1,1323.4 939.3,1324.1 C948.5,1324.8 962.3,1331.8 966.9,1333.3" stroke="#111" stroke-width="2" fill="none" stroke-dasharray="8.6 6"/>
<text x="748.7" y="1306.0" font-family="Liberation Serif" font-size="15" text-anchor="start" fill="#000" font-weight="bold" font-style="italic" textLength="34.3" lengthAdjust="spacingAndGlyphs">OSR</text>
<line x1="766.3" y1="1313.4" x2="766.3" y2="1326.0" stroke="#000" stroke-width="2.6"/>
<path d="M753.8,1323.0 L766.3,1327.0 L778.8,1323.0 L766.3,1344.9 Z" fill="#000"/>
<text x="764.0" y="68.4" font-family="Liberation Serif" font-size="17" text-anchor="start" fill="#111" font-weight="bold" textLength="111.8" lengthAdjust="spacingAndGlyphs">Left ordinate</text>
<rect x="758.3" y="89" width="186.2" height="215.2" fill="none" stroke="#a8a8a8" stroke-width="1.3"/>
<path d="M770.8,127 L816.5,127" stroke="#000" stroke-width="3.6" fill="none" stroke-linecap="round"/>
<text x="833.2" y="129.8" font-family="Liberation Serif" font-size="16" text-anchor="start" fill="#1a1a1a" textLength="100.5" lengthAdjust="spacingAndGlyphs">Var_P+ETM1</text>
<path d="M769,157.2 L818.3,157.2" stroke="#9a9a9a" stroke-width="3.2" fill="none"/>
<text x="833.2" y="160.0" font-family="Liberation Serif" font-size="16" text-anchor="start" fill="#1a1a1a" textLength="100.5" lengthAdjust="spacingAndGlyphs">Var_P+ETM2</text>
<path d="M769,187.2 L818.3,187.2" stroke="#111" stroke-width="1.8" fill="none" stroke-dasharray="4.6 2.9"/>
<text x="833.2" y="190.0" font-family="Liberation Serif" font-size="16" text-anchor="start" fill="#1a1a1a" textLength="100.5" lengthAdjust="spacingAndGlyphs">Var_P+ETM3</text>
<path d="M769,217.2 L818.3,217.2" stroke="#1a1a1a" stroke-width="1.4" fill="none"/>
<text x="833.2" y="220.0" font-family="Liberation Serif" font-size="16" text-anchor="start" fill="#1a1a1a" textLength="100.5" lengthAdjust="spacingAndGlyphs">Var_P+ETM4</text>
<path d="M769,247.3 L818.3,247.3" stroke="#111" stroke-width="2" fill="none" stroke-dasharray="8.6 6"/>
<text x="833.2" y="250.1" font-family="Liberation Serif" font-size="16" text-anchor="start" fill="#1a1a1a" textLength="100.5" lengthAdjust="spacingAndGlyphs">Var_P+ETM5</text>
<path d="M770.8,277.4 L816.5,277.4" stroke="#000" stroke-width="3.6" fill="none" stroke-dasharray="11 11" stroke-linecap="round"/>
<text x="833.2" y="280.2" font-family="Liberation Serif" font-size="16" text-anchor="start" fill="#1a1a1a" textLength="100.5" lengthAdjust="spacingAndGlyphs">Var_P+ETM7</text>
<text x="768.4" y="390.5" font-family="Liberation Serif" font-size="17" text-anchor="start" fill="#111" font-weight="bold" textLength="123.7" lengthAdjust="spacingAndGlyphs">Right ordinate</text>
<rect x="756.8" y="404" width="185.8" height="80.2" fill="none" stroke="#a8a8a8" stroke-width="1.3"/>
<line x1="769" y1="428.7" x2="818.4" y2="428.7" stroke="#79b828" stroke-width="3"/>
<circle cx="783" cy="428.7" r="3.6" fill="#79b828"/>
<circle cx="808.3" cy="428.7" r="3.6" fill="#79b828"/>
<text x="828.0" y="432.5" font-family="Liberation Serif" font-size="16" text-anchor="start" fill="#1a1a1a" textLength="66.2" lengthAdjust="spacingAndGlyphs">D_NDVI</text>
<line x1="765.8" y1="458.4" x2="815.6" y2="458.4" stroke="#d0101c" stroke-width="3"/>
<rect x="773.5" y="454.9" width="7" height="7" fill="#b00f22" />
<rect x="800.5" y="454.9" width="7" height="7" fill="#b00f22" />
<text x="828.0" y="462.0" font-family="Liberation Serif" font-size="16" text-anchor="start" fill="#1a1a1a" textLength="78.5" lengthAdjust="spacingAndGlyphs">D_built-up</text>
<path d="M121.4,1231 L121.4,1275.5 L756.4,1275.5 L756.4,1226" stroke="#8d8d8d" stroke-width="1.8" fill="none"/>
<path d="M748.4,1229.5 L756.4,1214.5 L764.4,1229.5 L756.4,1225.5 Z" fill="#8d8d8d"/>
<path d="M154.6,1536 L154.6,1580.8 L759.8,1580.8 L759.8,1534" stroke="#8d8d8d" stroke-width="1.8" fill="none"/>
<path d="M751.5,1537.5 L759.8,1522.4 L768.1,1537.5 L759.8,1533.5 Z" fill="#8d8d8d"/>
<rect x="100.5" y="1159.5" width="71.7" height="71.3" fill="none" stroke="#2a2a2a" stroke-width="1.6"/>
<rect x="126.5" y="1463.8" width="71.7" height="71.9" fill="none" stroke="#2a2a2a" stroke-width="1.6"/>
</svg>
</body></html>
